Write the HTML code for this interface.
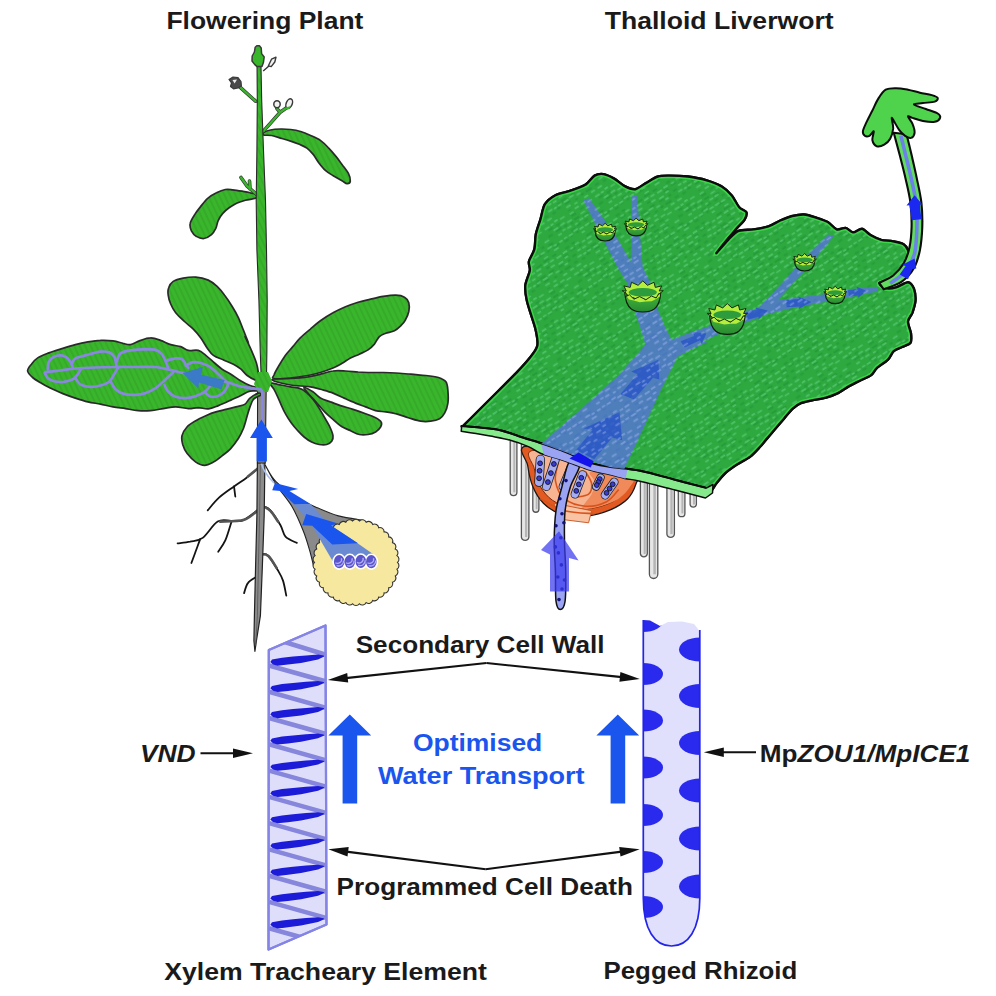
<!DOCTYPE html>
<html><head><meta charset="utf-8"><title>Graphical abstract</title>
<style>
html,body{margin:0;padding:0;background:#fff;}
svg{display:block;font-family:"Liberation Sans",sans-serif;font-weight:bold;}
</style></head>
<body>
<svg width="996" height="996" viewBox="0 0 996 996">
<rect width="996" height="996" fill="#ffffff"/>
<!-- flowering plant -->
<g id="plant">
<defs><pattern id="hat" width="5" height="10" patternUnits="userSpaceOnUse" patternTransform="rotate(-25)"><rect width="5" height="10" fill="#3ab62c"/><rect x="0" width="2" height="10" fill="#35ab29"/></pattern></defs>
<g fill="none" stroke="#141414" stroke-width="1.8" stroke-linecap="round" stroke-linejoin="round">
<path d="M257.4,468.9 C255.6,470.3 250.5,474.7 246.6,477.7 C242.7,480.6 238.6,483.1 234.0,486.4 C229.4,489.8 223.4,493.8 219.0,497.7 C214.6,501.7 209.6,508.2 207.7,510.3"/>
<path d="M234.0,486.4 L235.3,496.5"/>
<path d="M257.4,510.3 C255.0,512.0 247.1,518.6 242.8,520.3 C238.5,522.1 235.7,520.6 231.5,520.8 C227.4,521.0 222.5,518.7 217.7,521.6 C212.9,524.4 207.3,534.5 202.7,537.9 C198.1,541.2 194.3,540.7 190.1,541.7 C185.9,542.6 179.7,543.1 177.6,543.4"/>
<path d="M231.5,521.6 C230.5,524.7 227.5,535.4 225.3,540.4 C223.0,545.4 219.4,549.8 218.2,551.7"/>
<path d="M200.2,539.1 C199.3,541.4 196.6,549.0 195.1,553.0 C193.7,556.9 192.0,561.3 191.4,563.0"/>
<path d="M264.2,506.5 C265.2,507.1 267.7,507.1 270.4,510.3 C273.2,513.4 278.0,520.9 280.5,525.3 C283.0,529.7 282.8,533.7 285.5,536.6 C288.2,539.6 294.9,541.9 296.8,542.9"/>
<path d="M261.7,554.2 C262.7,554.4 265.2,552.7 267.9,555.5 C270.7,558.2 275.5,566.3 278.0,570.5 C280.5,574.7 281.6,576.4 283.0,580.6 C284.4,584.7 285.7,593.1 286.3,595.6"/>
<path d="M256.6,576.8 C255.2,577.8 249.9,580.4 247.9,583.1 C245.8,585.8 244.7,591.4 244.1,593.1"/>
</g>
<g fill="none" stroke="#555" stroke-width="2.6" stroke-linecap="round">
<path d="M258.4,468.1 L247.9,476.6"/>
<path d="M258.4,509.8 C256.0,511.5 250.4,517.9 244.1,519.8 C237.7,521.8 224.2,521.3 220.2,521.6"/>
<path d="M263.4,506.5 C264.6,507.2 268.0,508.3 270.4,510.8 C272.9,513.3 276.7,519.8 278.0,521.6"/>
<path d="M260.9,554.2 C262.2,554.5 265.8,553.7 268.4,556.0 C271.1,558.3 275.3,566.0 276.7,568.0"/>
</g>
<path d="M257.4,462.6 L256.9,515.3 L255.6,565.5 L254.4,615.7 L253.9,640.8 L254.9,651.3 L256.4,640.8 L260.4,615.7 L262.4,565.5 L264.2,515.3 L264.9,462.6 Z" fill="#8c8c8c" stroke="#222" stroke-width="1.2" stroke-linejoin="round"/>
<path d="M260.4,465.1 L259.6,515.3 L258.4,565.5 L257.4,615.7 L255.6,645.8" fill="none" stroke="#555" stroke-width="0.8"/>
<path d="M265.3,465.3 C267.0,467.9 270.2,475.8 275.7,481.3 C281.2,486.8 291.2,493.8 298.2,498.2 C305.2,502.6 310.8,504.9 317.5,507.8 C324.2,510.8 330.9,513.8 338.4,515.9 C345.9,517.9 358.4,519.5 362.4,520.2 L362,560 L313.5,565.7 L313.5,565.7 C312.8,563.0 311.2,555.5 309.4,549.6 C307.7,543.7 306.0,537.6 303.0,530.3 C300.1,523.1 296.3,513.9 291.8,506.2 C287.2,498.5 280.1,490.9 275.7,484.1 C271.3,477.2 267.0,468.4 265.3,465.3 Z" fill="#8a8a8a" stroke="#222" stroke-width="1.1" stroke-linejoin="round"/>
<path d="M397.5,562.4 A4.2,4.2 0 0 1 396.9,569.2 A4.2,4.2 0 0 1 395.3,575.9 A4.2,4.2 0 0 1 392.5,582.2 A4.2,4.2 0 0 1 388.7,587.9 A4.2,4.2 0 0 1 384.1,592.9 A4.2,4.2 0 0 1 378.7,597.1 A4.2,4.2 0 0 1 372.7,600.4 A4.2,4.2 0 0 1 366.2,602.6 A4.2,4.2 0 0 1 359.4,603.8 A4.2,4.2 0 0 1 352.6,603.8 A4.2,4.2 0 0 1 345.8,602.6 A4.2,4.2 0 0 1 339.3,600.4 A4.2,4.2 0 0 1 333.3,597.1 A4.2,4.2 0 0 1 327.9,592.9 A4.2,4.2 0 0 1 323.3,587.9 A4.2,4.2 0 0 1 319.5,582.2 A4.2,4.2 0 0 1 316.7,575.9 A4.2,4.2 0 0 1 315.1,569.2 A4.2,4.2 0 0 1 314.5,562.4 A4.2,4.2 0 0 1 315.1,555.6 A4.2,4.2 0 0 1 316.7,548.9 A4.2,4.2 0 0 1 319.5,542.6 A4.2,4.2 0 0 1 323.3,536.9 A4.2,4.2 0 0 1 327.9,531.9 A4.2,4.2 0 0 1 333.3,527.7 A4.2,4.2 0 0 1 339.3,524.4 A4.2,4.2 0 0 1 345.8,522.2 A4.2,4.2 0 0 1 352.6,521.0 A4.2,4.2 0 0 1 359.4,521.0 A4.2,4.2 0 0 1 366.2,522.2 A4.2,4.2 0 0 1 372.7,524.4 A4.2,4.2 0 0 1 378.7,527.7 A4.2,4.2 0 0 1 384.1,531.9 A4.2,4.2 0 0 1 388.7,536.9 A4.2,4.2 0 0 1 392.5,542.6 A4.2,4.2 0 0 1 395.3,548.9 A4.2,4.2 0 0 1 396.9,555.6 A4.2,4.2 0 0 1 397.5,562.4 Z" fill="#f6e89e" stroke="#333" stroke-width="1.1"/>
<path d="M294.2,504.3 L310.2,503.8 L330.3,525.2 L357.6,543.2 L373.7,554.4 L376.9,562.4 L333.5,562.4 L311.8,525.5 Z" fill="#6a8bd2"/>
<path d="M261.2,461.2 C261.5,462.3 261.8,465.3 262.9,467.7 C263.9,470.1 265.8,473.2 267.7,475.7 C269.5,478.2 273.0,481.7 274.1,482.9" fill="none" stroke="#a9c0f0" stroke-width="1.6"/>
<path d="M274.9,482.9 L298.2,489.0 L289.4,491.0 L310.2,503.8 L294.2,504.3 L280.5,491.0 L272.2,490.2 Z" fill="#1a55ee"/>
<path d="M306.2,513.9 L338.0,523.6 L331.1,525.5 L358.0,543.2 L332.2,544.5 L312.3,525.8 L302.2,525.2 Z" fill="#1a55ee"/>
<g>
<ellipse cx="339.2" cy="561.7" rx="6.9" ry="8.2" fill="#fff"/>
<ellipse cx="349.8" cy="561.7" rx="6.9" ry="8.2" fill="#fff"/>
<ellipse cx="360.8" cy="561.4" rx="6.9" ry="8.2" fill="#fff"/>
<ellipse cx="371.3" cy="561.7" rx="6.9" ry="8.2" fill="#fff"/>
<ellipse cx="339.2" cy="561.7" rx="5.3" ry="6.6" fill="#5a55cc"/>
<path d="M335.4,562.7 a4,4 0 0 0 6,-4.5 M336.59999999999997,565.5 a5,5 0 0 0 7,-5" fill="none" stroke="#b4b0f4" stroke-width="1.3"/>
<ellipse cx="349.8" cy="561.7" rx="5.3" ry="6.6" fill="#5a55cc"/>
<path d="M346.0,562.7 a4,4 0 0 0 6,-4.5 M347.2,565.5 a5,5 0 0 0 7,-5" fill="none" stroke="#b4b0f4" stroke-width="1.3"/>
<ellipse cx="360.8" cy="561.4" rx="5.3" ry="6.6" fill="#5a55cc"/>
<path d="M357.0,562.4 a4,4 0 0 0 6,-4.5 M358.2,565.1999999999999 a5,5 0 0 0 7,-5" fill="none" stroke="#b4b0f4" stroke-width="1.3"/>
<ellipse cx="371.3" cy="561.7" rx="5.3" ry="6.6" fill="#5a55cc"/>
<path d="M367.5,562.7 a4,4 0 0 0 6,-4.5 M368.7,565.5 a5,5 0 0 0 7,-5" fill="none" stroke="#b4b0f4" stroke-width="1.3"/>
</g>
<path d="M257.6,388 L257.4,463 L265.2,463 L266.2,388 Z" fill="#8c8c8c" stroke="#222" stroke-width="1.1"/>
<path d="M304.1,387.6 C304.9,387.3 310.2,390.1 312.9,391.8 C315.6,393.6 317.5,396.4 320.4,398.1 C323.3,399.8 327.1,400.6 330.4,401.9 C333.8,403.1 336.7,404.4 340.5,405.6 C344.2,406.9 348.8,408.0 353.0,409.4 C357.2,410.7 361.8,412.3 365.6,413.7 C369.3,415.0 373.0,416.3 375.6,417.7 C378.2,419.1 380.3,420.4 381.1,421.9 C382.0,423.5 381.6,425.3 380.6,427.0 C379.7,428.6 377.7,430.7 375.6,432.0 C373.5,433.2 370.8,434.1 368.1,434.5 C365.4,434.9 362.2,435.1 359.3,434.5 C356.4,433.9 353.7,432.2 350.5,430.7 C347.4,429.3 343.4,427.6 340.5,425.7 C337.6,423.8 335.5,421.6 333.0,419.4 C330.4,417.3 327.7,415.0 325.4,412.7 C323.1,410.3 321.2,408.0 319.1,405.6 C317.1,403.3 314.8,400.7 312.9,398.6 C311.0,396.5 309.3,394.9 307.9,393.1 C306.4,391.2 303.2,387.8 304.1,387.6 Z" fill="url(#hat)" stroke="#2a2a2a" stroke-width="1.7" stroke-linejoin="round"/>
<path d="M268.9,382.5 C270.2,382.5 274.2,383.6 277.7,384.3 C281.3,385.0 286.5,386.1 290.3,386.8 C294.0,387.5 297.6,387.6 300.3,388.6 C303.0,389.5 304.5,390.8 306.6,392.6 C308.7,394.4 310.8,396.8 312.9,399.3 C315.0,401.9 317.3,405.2 319.1,408.1 C321.0,411.1 322.5,414.0 324.2,416.9 C325.8,419.8 327.7,422.6 329.2,425.7 C330.7,428.8 332.5,433.1 333.0,435.7 C333.4,438.3 332.7,439.8 331.7,441.3 C330.7,442.7 328.8,444.0 326.7,444.5 C324.6,445.1 321.7,444.9 319.1,444.5 C316.6,444.1 314.1,443.3 311.6,442.0 C309.1,440.8 306.4,438.9 304.1,437.0 C301.8,435.1 299.9,433.0 297.8,430.7 C295.7,428.4 293.5,425.9 291.5,423.2 C289.5,420.5 287.4,417.3 285.8,414.4 C284.1,411.5 282.8,408.6 281.5,405.6 C280.2,402.7 279.0,399.6 277.7,396.8 C276.5,394.1 275.2,391.4 274.0,389.3 C272.7,387.2 271.0,385.4 270.2,384.3 C269.4,383.2 267.7,382.5 268.9,382.5 Z" fill="url(#hat)" stroke="#2a2a2a" stroke-width="1.7" stroke-linejoin="round"/>
<path d="M274.0,379.0 C276.7,378.6 284.6,378.9 290.3,378.5 C295.9,378.1 302.8,377.5 307.9,376.8 C312.9,376.0 316.2,375.2 320.4,374.2 C324.6,373.3 328.8,371.5 333.0,371.0 C337.1,370.4 341.3,370.8 345.5,371.0 C349.7,371.2 353.9,371.7 358.1,372.0 C362.2,372.2 366.4,372.4 370.6,372.5 C374.8,372.6 379.0,372.4 383.2,372.5 C387.3,372.6 391.1,372.7 395.7,373.0 C400.3,373.3 405.7,373.8 410.8,374.2 C415.8,374.7 421.2,375.0 425.8,375.5 C430.4,376.0 435.0,376.5 438.4,377.5 C441.7,378.6 444.3,379.6 445.9,381.8 C447.5,384.0 447.6,387.0 447.9,390.6 C448.2,394.1 448.5,399.3 447.9,403.1 C447.4,406.9 446.0,410.6 444.6,413.2 C443.3,415.7 441.9,417.3 439.6,418.7 C437.3,420.0 434.0,420.8 430.8,421.2 C427.7,421.6 424.6,421.8 420.8,421.2 C417.0,420.6 412.4,418.9 408.3,417.7 C404.1,416.4 399.5,414.6 395.7,413.7 C391.9,412.7 389.0,412.4 385.7,411.9 C382.3,411.4 379.0,411.5 375.6,410.6 C372.3,409.8 368.9,408.1 365.6,406.9 C362.2,405.6 359.1,404.6 355.5,403.1 C352.0,401.6 348.0,399.8 344.2,398.1 C340.5,396.4 336.9,394.5 333.0,393.1 C329.0,391.6 324.2,390.4 320.4,389.3 C316.6,388.3 313.7,387.3 310.4,386.8 C307.0,386.3 303.7,386.3 300.3,386.0 C297.0,385.8 294.7,385.9 290.3,385.0 C285.9,384.2 276.7,382.0 274.0,381.0 C271.2,380.0 271.2,379.4 274.0,379.0 Z" fill="url(#hat)" stroke="#2a2a2a" stroke-width="1.7" stroke-linejoin="round"/>
<path d="M274.0,375.0 C274.8,372.8 277.1,368.7 279.0,365.5 C280.9,362.2 283.0,358.6 285.3,355.4 C287.6,352.3 290.3,349.6 292.8,346.6 C295.3,343.7 297.4,340.8 300.3,337.9 C303.2,334.9 307.0,331.9 310.4,329.1 C313.7,326.2 316.6,323.5 320.4,320.8 C324.2,318.1 328.8,315.1 333.0,312.8 C337.1,310.4 341.3,308.5 345.5,306.7 C349.7,305.0 353.9,303.5 358.1,302.2 C362.2,301.0 366.4,300.2 370.6,299.2 C374.8,298.2 379.0,297.1 383.2,296.4 C387.3,295.8 392.1,295.1 395.7,295.2 C399.3,295.3 402.3,295.9 404.5,297.2 C406.7,298.4 408.0,300.3 408.8,302.7 C409.5,305.1 409.3,308.6 408.8,311.5 C408.2,314.4 406.6,317.9 405.2,320.3 C403.9,322.7 402.5,324.0 400.7,325.8 C398.9,327.6 397.0,329.6 394.4,330.8 C391.9,332.1 388.2,332.4 385.7,333.3 C383.2,334.3 381.3,334.8 379.4,336.6 C377.5,338.4 376.2,341.9 374.4,344.1 C372.5,346.3 370.6,348.2 368.1,349.9 C365.6,351.6 362.2,352.8 359.3,354.2 C356.4,355.5 353.5,356.4 350.5,357.9 C347.6,359.5 344.7,361.8 341.7,363.5 C338.8,365.1 336.5,366.5 333.0,368.0 C329.4,369.5 324.6,371.2 320.4,372.5 C316.2,373.7 312.9,374.6 307.9,375.5 C302.8,376.4 295.9,377.5 290.3,378.0 C284.6,378.5 276.7,379.0 274.0,378.5 C271.2,378.0 273.1,377.2 274.0,375.0 Z" fill="url(#hat)" stroke="#2a2a2a" stroke-width="1.7" stroke-linejoin="round"/>
<path d="M258.5,393.1 C256.8,393.6 252.3,396.2 250.0,398.1 C247.7,400.0 247.1,402.9 244.7,404.4 C242.4,405.8 239.1,406.0 235.9,406.9 C232.8,407.7 229.3,408.6 225.9,409.4 C222.6,410.2 219.2,410.9 215.9,411.9 C212.5,412.9 209.2,414.2 205.8,415.7 C202.5,417.1 198.9,418.8 195.8,420.7 C192.6,422.6 189.3,424.4 187.0,427.0 C184.7,429.5 182.7,432.8 182.0,435.7 C181.3,438.7 181.9,441.6 182.7,444.5 C183.6,447.5 184.8,450.4 187.0,453.3 C189.2,456.2 192.9,460.1 195.8,462.1 C198.7,464.1 201.6,465.4 204.6,465.4 C207.5,465.4 210.4,463.7 213.4,462.1 C216.3,460.5 219.2,458.1 222.1,455.8 C225.1,453.5 228.2,451.2 230.9,448.3 C233.6,445.4 236.4,441.6 238.5,438.3 C240.5,434.9 242.0,432.0 243.5,428.2 C244.9,424.4 246.2,419.2 247.2,415.7 C248.3,412.1 249.0,409.6 250.0,406.9 C251.0,404.2 251.8,401.3 253.5,399.3 C255.3,397.4 259.7,396.1 260.5,395.1 C261.4,394.0 260.3,392.6 258.5,393.1 Z" fill="url(#hat)" stroke="#2a2a2a" stroke-width="1.7" stroke-linejoin="round"/>
<path d="M27.6,371.0 C27.4,368.8 29.7,366.4 31.4,364.2 C33.0,362.0 34.7,359.8 37.7,357.9 C40.6,356.0 44.8,354.5 48.9,352.9 C53.1,351.3 58.4,349.8 62.8,348.4 C67.1,347.0 71.1,345.7 75.3,344.6 C79.5,343.5 83.7,342.6 87.9,341.9 C92.0,341.2 96.2,340.5 100.4,340.4 C104.6,340.2 109.2,340.4 113.0,340.9 C116.7,341.4 120.1,342.7 123.0,343.4 C125.9,344.0 127.8,345.0 130.5,344.6 C133.2,344.2 136.0,342.0 139.3,340.9 C142.7,339.7 147.0,337.9 150.6,337.9 C154.2,337.8 157.3,339.2 160.6,340.4 C164.0,341.5 167.3,343.6 170.7,344.6 C174.0,345.7 177.8,345.7 180.7,346.6 C183.7,347.6 185.3,349.8 188.3,350.4 C191.2,351.0 195.4,349.6 198.3,350.4 C201.2,351.2 203.1,353.3 205.8,355.4 C208.5,357.5 211.9,360.7 214.6,363.0 C217.3,365.3 219.4,367.3 222.1,369.2 C224.9,371.1 227.8,372.3 230.9,374.2 C234.1,376.2 237.8,379.1 241.0,381.0 C244.1,382.9 246.7,384.3 250.0,385.5 C253.3,386.8 259.2,387.6 261.0,388.6 C262.9,389.5 262.9,390.6 261.0,391.1 C259.2,391.5 253.3,390.3 250.0,391.1 C246.7,391.8 244.1,394.1 241.0,395.6 C237.8,397.1 234.7,398.4 230.9,400.1 C227.2,401.8 222.1,404.2 218.4,405.6 C214.6,407.1 211.7,408.6 208.3,408.9 C205.0,409.2 201.6,407.7 198.3,407.6 C194.9,407.6 192.0,408.8 188.3,408.6 C184.5,408.5 179.9,406.9 175.7,406.9 C171.5,406.9 167.3,408.0 163.2,408.6 C159.0,409.3 154.8,410.3 150.6,410.6 C146.4,411.0 142.2,411.0 138.1,410.6 C133.9,410.3 129.7,409.3 125.5,408.6 C121.3,408.0 117.1,407.6 113.0,406.9 C108.8,406.1 104.6,405.0 100.4,404.1 C96.2,403.3 92.0,402.9 87.9,401.9 C83.7,400.9 79.5,399.5 75.3,398.1 C71.1,396.7 66.9,395.2 62.8,393.6 C58.6,391.9 54.0,389.9 50.2,388.1 C46.4,386.2 43.1,384.3 40.2,382.5 C37.2,380.8 34.7,379.4 32.6,377.5 C30.5,375.6 27.8,373.2 27.6,371.0 Z" fill="url(#hat)" stroke="#2a2a2a" stroke-width="1.7" stroke-linejoin="round"/>
<path d="M168.2,295.2 C167.8,292.5 167.8,290.0 168.7,287.7 C169.5,285.3 170.8,283.0 173.2,281.4 C175.6,279.8 179.5,278.8 183.2,278.1 C187.0,277.4 191.6,276.8 195.8,277.1 C200.0,277.4 204.8,278.6 208.3,280.1 C211.9,281.7 214.4,283.9 217.1,286.4 C219.8,288.9 222.1,291.8 224.6,295.2 C227.2,298.5 229.9,302.7 232.2,306.5 C234.5,310.2 236.6,313.8 238.5,317.8 C240.3,321.7 241.8,326.1 243.5,330.3 C245.1,334.5 248.2,341.8 248.5,342.9 C248.8,343.9 244.6,335.3 245.1,336.6 C245.6,337.9 249.5,346.0 251.4,350.4 C253.3,354.8 255.1,358.8 256.4,363.0 C257.7,367.1 258.3,372.5 258.9,375.5 C259.5,378.5 260.6,380.2 260.2,381.0 C259.7,381.9 258.2,381.4 256.0,380.5 C253.9,379.6 249.7,377.4 247.2,375.5 C244.7,373.6 243.3,371.1 241.0,369.2 C238.7,367.3 236.4,365.8 233.4,364.2 C230.5,362.7 226.7,361.4 223.4,359.9 C220.0,358.5 216.1,357.4 213.4,355.4 C210.6,353.4 209.2,350.8 207.1,347.9 C205.0,345.0 203.1,341.0 200.8,337.9 C198.5,334.7 196.0,331.8 193.3,329.1 C190.6,326.3 187.4,324.3 184.5,321.5 C181.6,318.8 178.0,315.7 175.7,312.8 C173.4,309.8 171.9,306.9 170.7,304.0 C169.4,301.0 168.5,297.9 168.2,295.2 Z" fill="url(#hat)" stroke="#2a2a2a" stroke-width="1.7" stroke-linejoin="round"/>
<path d="M263.5,132.5 C264.6,131.7 267.6,130.6 270.5,130.0 C273.3,129.4 277.2,129.1 280.5,129.0 C283.9,128.9 287.2,129.1 290.6,129.5 C293.9,129.9 297.3,130.5 300.6,131.5 C303.9,132.5 307.3,134.0 310.6,135.5 C314.0,137.0 317.7,138.5 320.7,140.6 C323.7,142.7 326.2,145.5 328.7,148.1 C331.2,150.7 333.5,153.4 335.7,156.1 C338.0,158.8 339.9,161.6 342.0,164.4 C344.1,167.3 346.9,170.4 348.3,173.2 C349.7,176.0 350.5,179.5 350.3,181.2 C350.1,183.0 348.4,183.8 347.0,183.7 C345.7,183.7 344.3,182.1 342.0,180.7 C339.7,179.4 336.0,177.4 333.2,175.7 C330.5,174.0 328.1,172.9 325.7,170.7 C323.3,168.5 320.8,165.4 318.7,162.7 C316.6,159.9 315.1,156.8 313.2,154.4 C311.2,151.9 309.2,149.8 306.9,148.1 C304.6,146.4 302.1,145.5 299.3,144.3 C296.6,143.2 293.7,142.1 290.6,141.1 C287.4,140.0 283.7,139.0 280.5,138.1 C277.4,137.1 274.6,136.0 271.7,135.5 C268.9,135.0 264.8,135.5 263.5,135.0 C262.1,134.5 262.3,133.4 263.5,132.5 Z" fill="url(#hat)" stroke="#2a2a2a" stroke-width="1.7" stroke-linejoin="round"/>
<path d="M256.7,194.5 C255.6,193.7 252.7,193.3 250.4,192.8 C248.1,192.2 245.8,191.8 242.9,191.3 C239.9,190.8 235.8,190.1 232.8,189.8 C229.9,189.5 228.0,189.0 225.3,189.5 C222.6,190.0 219.4,191.3 216.5,192.8 C213.6,194.2 210.5,195.9 207.7,198.3 C205.0,200.7 202.4,204.4 200.2,207.1 C198.0,209.8 196.4,211.9 194.7,214.6 C193.0,217.3 190.7,220.7 190.2,223.4 C189.6,226.1 190.4,228.7 191.4,230.9 C192.5,233.1 194.3,235.2 196.4,236.4 C198.5,237.7 201.5,238.7 204.0,238.5 C206.5,238.2 209.5,236.4 211.5,234.7 C213.5,233.0 214.6,230.8 215.8,228.4 C216.9,226.0 217.1,222.9 218.3,220.4 C219.4,217.9 221.0,215.4 222.8,213.4 C224.6,211.3 226.8,209.5 229.1,207.8 C231.4,206.2 233.9,204.6 236.6,203.3 C239.3,202.1 242.0,201.2 245.4,200.3 C248.7,199.4 254.8,198.8 256.7,197.8 C258.6,196.8 257.7,195.4 256.7,194.5 Z" fill="url(#hat)" stroke="#2a2a2a" stroke-width="1.7" stroke-linejoin="round"/>
<g fill="none" stroke="#333" stroke-width="3.6" stroke-linecap="round">
<path d="M255.6,101.2 L240,87.2"/><path d="M263.2,131.4 L280.2,112.3 L276.9,108.6 M280.2,112.3 L287.3,107.3"/><path d="M256.7,194.5 L247,186 L241,177.5 M250,189 L249.5,181"/>
</g>
<g fill="none" stroke="#3ab62c" stroke-width="2.3" stroke-linecap="round">
<path d="M255.6,101.2 L240,87.2"/><path d="M263.2,131.4 L280.2,112.3 L276.9,108.6 M280.2,112.3 L287.3,107.3"/><path d="M256.7,194.5 L247,186 L241,177.5 M250,189 L249.5,181"/>
</g>
<path d="M263.2,71 L269.5,65.5" stroke="#333" stroke-width="1.4" fill="none"/>
<path d="M268.4,65.8 L271.5,59.2 L276,57.2 L274.8,62 L271.2,66.6 Z" fill="#f2f2f2" stroke="#3a3a3a" stroke-width="1.4" stroke-linejoin="round"/>
<path d="M229,79.5 L233,77 L238,77.6 L241,81.5 L241.4,86 L238,88 L233.5,88.8 L230.5,86.5 L231.5,83 Z" fill="#4a4a4a" stroke="#3a3a3a" stroke-width="1.2" stroke-linejoin="round"/><path d="M232.5,80 L237,79.6 L234.6,83.6 Z" fill="#eee"/>
<ellipse cx="277" cy="104.3" rx="3.2" ry="3.5" fill="#f2f2f2" stroke="#3a3a3a" stroke-width="1.5"/>
<ellipse cx="289.2" cy="103.6" rx="3" ry="5" transform="rotate(22 289.2 103.6)" fill="#f2f2f2" stroke="#3a3a3a" stroke-width="1.5"/>
<path d="M285.6,107.6 L290.6,106 L289,109 L286.4,109.6 Z" fill="#3ab62c"/>
<path d="M256.9,47.7 L257.3,100.4 L256.9,150.6 L256.2,200.8 L256.9,250.0 L258.9,300.2 L260.2,350.4 L261.2,378.0 L266.4,382.0 L266.9,350.4 L267.2,300.2 L266.5,250.0 L265.5,200.8 L263.5,150.6 L261.7,100.4 L260.6,47.7 Z" fill="url(#hat)" stroke="#2a2a2a" stroke-width="1.1" stroke-linejoin="round"/>
<path d="M255.2,47.2 L254.4,52 L252.2,56 L252,61 L254.6,64.4 L256.8,66.4 L262,66.4 L263.4,62.6 L264.2,57 L261.6,53.6 L261.2,48 L259.4,45.8 L256.8,45.8 Z" fill="#3ab62c" stroke="#3a3a3a" stroke-width="1.5" stroke-linejoin="round"/>
<path d="M258,372 L268,372 L272,381 L268,392 L258,392 L254,384 Z" fill="url(#hat)"/>
<path d="M45.2,372.2 C47.7,371.9 55.2,371.1 60.2,370.5 C65.3,369.9 69.4,369.0 75.3,368.5 C81.2,368.0 88.7,367.7 95.4,367.5 C102.1,367.2 108.8,367.1 115.5,367.0 C122.2,366.9 128.8,367.0 135.5,367.0 C142.2,367.0 149.8,366.5 155.6,367.0 C161.5,367.5 166.1,369.0 170.7,370.0 C175.3,371.0 178.2,371.9 183.2,373.0 C188.3,374.1 193.7,375.3 200.8,376.8 C207.9,378.2 219.6,380.2 225.9,381.8 C232.2,383.3 234.3,385.0 238.5,386.0 C242.6,387.1 247.2,387.5 251.0,388.1 C254.8,388.6 259.4,389.3 261.0,389.6 M47.7,369.2 C47.9,368.0 47.9,363.8 48.9,361.7 C50.0,359.6 51.9,357.7 54.0,356.7 C56.1,355.6 59.2,355.1 61.5,355.4 C63.8,355.7 66.1,357.0 67.8,358.4 C69.4,359.9 70.7,362.5 71.5,364.2 C72.4,365.9 72.6,367.8 72.8,368.5 M72.3,363.0 C72.8,362.2 73.1,359.7 75.3,358.4 C77.5,357.2 81.2,356.6 85.3,355.4 C89.5,354.3 96.4,352.2 100.4,351.7 C104.4,351.2 106.9,351.6 109.2,352.4 C111.5,353.2 113.0,354.3 114.2,356.7 C115.5,359.1 116.3,365.3 116.7,367.0 M116.7,361.7 C117.3,360.3 118.2,355.3 120.5,353.4 C122.8,351.5 126.3,351.1 130.5,350.4 C134.7,349.7 141.4,349.2 145.6,349.1 C149.8,349.1 152.9,349.1 155.6,349.9 C158.3,350.7 160.2,352.2 161.9,354.2 C163.6,356.1 164.6,359.4 165.7,361.7 C166.7,364.0 167.8,366.9 168.2,368.0 M166.9,360.4 C168.4,360.1 173.2,358.6 175.7,358.4 C178.2,358.2 180.3,358.2 182.0,359.2 C183.7,360.1 184.7,362.7 185.7,364.2 C186.8,365.7 187.8,367.3 188.3,368.0 M185.7,365.5 C187.0,364.9 190.8,362.6 193.3,362.2 C195.8,361.8 198.1,362.2 200.8,363.0 C203.5,363.7 206.9,365.0 209.6,366.7 C212.3,368.4 214.8,370.9 217.1,373.0 C219.4,375.1 221.7,377.7 223.4,379.3 C225.1,380.8 226.5,381.8 227.2,382.3 M44.7,373.0 C45.2,373.8 46.1,376.6 47.7,378.0 C49.2,379.4 51.2,380.6 54.0,381.3 C56.7,381.9 60.9,382.1 64.0,381.8 C67.1,381.4 70.5,380.5 72.8,379.3 C75.1,378.0 76.5,375.9 77.8,374.2 C79.1,372.6 80.3,370.1 80.8,369.2 M75.3,378.0 C76.1,379.1 77.8,382.8 80.3,384.3 C82.8,385.8 87.0,386.6 90.4,386.8 C93.7,387.0 97.3,386.4 100.4,385.5 C103.5,384.7 106.9,383.7 109.2,381.8 C111.5,379.9 112.7,376.5 114.2,374.2 C115.7,371.9 117.3,369.0 118.0,368.0 M110.4,381.0 C111.3,382.4 113.4,387.2 115.5,389.3 C117.6,391.4 119.6,392.7 123.0,393.6 C126.3,394.5 131.8,394.9 135.5,394.8 C139.3,394.7 142.2,394.2 145.6,393.1 C148.9,391.9 152.5,390.1 155.6,388.1 C158.8,386.0 161.5,383.2 164.4,380.5 C167.3,377.9 171.7,373.6 173.2,372.2 M164.4,385.0 C165.0,386.2 166.3,389.9 168.2,391.8 C170.1,393.8 172.8,395.8 175.7,396.8 C178.6,397.9 182.4,398.2 185.7,398.1 C189.1,398.0 192.6,397.1 195.8,396.1 C198.9,395.0 202.3,393.4 204.6,391.8 C206.9,390.3 208.8,387.6 209.6,386.8 M204.6,391.8 C205.4,392.6 207.5,395.6 209.6,396.3 C211.7,397.1 214.8,397.0 217.1,396.3 C219.4,395.7 221.7,394.2 223.4,392.6 C225.1,391.0 226.3,388.4 227.2,386.8 C228.0,385.2 228.2,383.7 228.4,383.0 M258,388.8 Q262.5,389 262.4,394 L262.3,421" fill="none" stroke="#8b86e2" stroke-width="2.7" stroke-linecap="round" stroke-linejoin="round"/>
<path d="M182.7,373.0 L202.8,367.0 L201.3,374.7 L224.6,380.0 L221.4,389.3 L199.0,382.5 L198.3,388.6 Z" fill="#3a7ac6"/>
<path d="M261.4,419.4 L272.8,437.9 L266.9,437.9 L266.9,461.4 L256.6,461.4 L256.6,437.9 L250,437.9 Z" fill="#1a55ee"/>
</g>
<!-- liverwort -->
<g id="liver">
<defs>
<pattern id="tex" width="60" height="54" patternUnits="userSpaceOnUse" patternTransform="rotate(-33)">
<rect width="60" height="54" fill="#2da93f"/>
<g stroke="#249a37" stroke-width="2.2" opacity="0.75" transform="translate(0,-3)"><path d="M1.4,2.9 h3.3 M17.2,2.2 h6.2 M28.2,2.2 h3.6 M46.8,2.0 h6.8 M1.2,9.3 h5.9 M12.1,8.5 h5.2 M34.4,9.2 h5.1 M43.6,9.3 h5.0 M2.0,14.0 h5.8 M11.5,16.0 h6.8 M30.9,14.6 h4.9 M40.2,14.1 h6.7 M49.5,14.3 h3.8 M56.7,15.3 h2.8 M0.5,20.4 h5.0 M9.6,20.7 h4.7 M18.5,20.3 h3.6 M26.5,21.8 h5.1 M53.3,21.9 h6.2 M10.7,26.1 h6.2 M21.4,26.3 h3.1 M29.7,26.1 h6.9 M41.4,27.4 h5.0 M49.1,25.9 h3.4 M56.6,26.2 h2.9 M3.4,34.0 h7.0 M13.0,32.9 h6.8 M23.3,33.0 h4.9 M38.6,33.6 h4.8 M46.5,33.0 h3.7 M11.9,40.0 h4.0 M32.2,39.6 h5.8 M41.7,38.0 h5.9 M51.5,38.7 h3.0 M0.9,45.4 h6.8 M12.2,45.1 h5.3 M23.0,45.5 h5.6 M34.0,45.3 h3.1 M40.3,43.9 h4.6 M56.1,46.1 h3.4 M2.6,50.0 h6.2 M13.6,52.0 h3.2 M20.7,51.0 h3.7 M27.0,50.8 h6.8 M38.1,50.5 h4.5 M46.7,51.5 h4.1 M53.4,49.9 h4.0 "/></g>
<g stroke="#58c872" stroke-width="1.7" stroke-linecap="round" opacity="0.8"><path d="M1.8,4.0 h3.2 M9.1,2.2 h3.3 M16.7,2.0 h3.7 M23.3,3.5 h3.8 M32.5,3.4 h4.1 M39.6,3.1 h2.0 M44.7,1.9 h2.5 M51.0,3.0 h3.9 M11.1,9.5 h3.8 M18.2,8.0 h2.6 M39.3,8.8 h4.2 M47.9,8.4 h3.7 M55.1,9.6 h4.1 M0.4,15.7 h2.1 M6.7,14.3 h3.0 M12.6,14.1 h3.4 M25.2,14.3 h3.9 M40.7,15.7 h2.6 M46.7,14.0 h2.2 M52.1,14.7 h3.3 M1.9,21.9 h3.3 M8.2,21.8 h4.0 M15.2,22.1 h3.6 M24.2,21.2 h3.9 M31.0,22.1 h2.1 M37.7,21.8 h2.6 M43.6,21.5 h2.4 M49.2,21.8 h3.2 M55.7,20.3 h3.8 M1.8,26.2 h2.1 M15.9,27.5 h3.4 M28.9,25.9 h4.1 M2.7,33.9 h4.0 M11.6,33.2 h3.9 M19.1,33.3 h3.3 M26.8,33.9 h4.2 M34.7,33.2 h3.6 M43.3,33.6 h2.2 M49.8,32.4 h3.1 M56.9,34.0 h2.6 M1.2,38.3 h3.5 M16.8,38.3 h3.5 M25.2,39.9 h4.0 M33.5,38.1 h2.7 M48.4,38.9 h2.4 M53.9,39.3 h2.9 M3.4,44.9 h4.2 M10.1,43.9 h3.9 M18.2,45.7 h2.7 M30.0,43.9 h2.3 M45.0,44.3 h3.5 M51.5,44.9 h2.0 M56.6,44.6 h2.6 M2.5,50.7 h3.7 M11.3,52.0 h2.2 M23.0,51.9 h3.3 M31.6,51.4 h3.0 M39.3,51.3 h3.8 "/></g>
</pattern>
<pattern id="spk" width="60" height="54" patternUnits="userSpaceOnUse" patternTransform="rotate(-33)">
<g stroke="#3f6cc4" stroke-width="2.2" opacity="0.35" transform="translate(0,-3)"><path d="M1.4,2.9 h3.3 M17.2,2.2 h6.2 M28.2,2.2 h3.6 M46.8,2.0 h6.8 M1.2,9.3 h5.9 M12.1,8.5 h5.2 M34.4,9.2 h5.1 M43.6,9.3 h5.0 M2.0,14.0 h5.8 M11.5,16.0 h6.8 M30.9,14.6 h4.9 M40.2,14.1 h6.7 M49.5,14.3 h3.8 M56.7,15.3 h2.8 M0.5,20.4 h5.0 M9.6,20.7 h4.7 M18.5,20.3 h3.6 M26.5,21.8 h5.1 M53.3,21.9 h6.2 M10.7,26.1 h6.2 M21.4,26.3 h3.1 M29.7,26.1 h6.9 M41.4,27.4 h5.0 M49.1,25.9 h3.4 M56.6,26.2 h2.9 M3.4,34.0 h7.0 M13.0,32.9 h6.8 M23.3,33.0 h4.9 M38.6,33.6 h4.8 M46.5,33.0 h3.7 M11.9,40.0 h4.0 M32.2,39.6 h5.8 M41.7,38.0 h5.9 M51.5,38.7 h3.0 M0.9,45.4 h6.8 M12.2,45.1 h5.3 M23.0,45.5 h5.6 M34.0,45.3 h3.1 M40.3,43.9 h4.6 M56.1,46.1 h3.4 M2.6,50.0 h6.2 M13.6,52.0 h3.2 M20.7,51.0 h3.7 M27.0,50.8 h6.8 M38.1,50.5 h4.5 M46.7,51.5 h4.1 M53.4,49.9 h4.0 "/></g>
<g stroke="#a0b6f2" stroke-width="1.7" stroke-linecap="round" opacity="0.5"><path d="M1.8,4.0 h3.2 M9.1,2.2 h3.3 M16.7,2.0 h3.7 M23.3,3.5 h3.8 M32.5,3.4 h4.1 M39.6,3.1 h2.0 M44.7,1.9 h2.5 M51.0,3.0 h3.9 M11.1,9.5 h3.8 M18.2,8.0 h2.6 M39.3,8.8 h4.2 M47.9,8.4 h3.7 M55.1,9.6 h4.1 M0.4,15.7 h2.1 M6.7,14.3 h3.0 M12.6,14.1 h3.4 M25.2,14.3 h3.9 M40.7,15.7 h2.6 M46.7,14.0 h2.2 M52.1,14.7 h3.3 M1.9,21.9 h3.3 M8.2,21.8 h4.0 M15.2,22.1 h3.6 M24.2,21.2 h3.9 M31.0,22.1 h2.1 M37.7,21.8 h2.6 M43.6,21.5 h2.4 M49.2,21.8 h3.2 M55.7,20.3 h3.8 M1.8,26.2 h2.1 M15.9,27.5 h3.4 M28.9,25.9 h4.1 M2.7,33.9 h4.0 M11.6,33.2 h3.9 M19.1,33.3 h3.3 M26.8,33.9 h4.2 M34.7,33.2 h3.6 M43.3,33.6 h2.2 M49.8,32.4 h3.1 M56.9,34.0 h2.6 M1.2,38.3 h3.5 M16.8,38.3 h3.5 M25.2,39.9 h4.0 M33.5,38.1 h2.7 M48.4,38.9 h2.4 M53.9,39.3 h2.9 M3.4,44.9 h4.2 M10.1,43.9 h3.9 M18.2,45.7 h2.7 M30.0,43.9 h2.3 M45.0,44.3 h3.5 M51.5,44.9 h2.0 M56.6,44.6 h2.6 M2.5,50.7 h3.7 M11.3,52.0 h2.2 M23.0,51.9 h3.3 M31.6,51.4 h3.0 M39.3,51.3 h3.8 "/></g>
</pattern>
<linearGradient id="cupg" x1="0" y1="0" x2="0" y2="1"><stop offset="0" stop-color="#46b83c"/><stop offset="1" stop-color="#278a30"/></linearGradient>
</defs>
<path d="M510.2,432.4 L510.2,492.3 A3.3,3.3 0 0 0 516.9,492.3 L516.9,432.4 Z" fill="#e6e6e6" stroke="#555" stroke-width="1.3"/>
<path d="M514.3,432.4 L514.3,492.3" stroke="#b5b5b5" stroke-width="2.0" fill="none"/>
<path d="M521.4,435.4 L521.4,537.1 A3.8,3.8 0 0 0 528.9,537.1 L528.9,435.4 Z" fill="#e6e6e6" stroke="#555" stroke-width="1.3"/>
<path d="M526.1,435.4 L526.1,537.1" stroke="#b5b5b5" stroke-width="2.3" fill="none"/>
<path d="M532.8,450.5 L532.8,509.2 A3.0,3.0 0 0 0 538.9,509.2 L538.9,450.5 Z" fill="#e6e6e6" stroke="#555" stroke-width="1.3"/>
<path d="M536.6,450.5 L536.6,509.2" stroke="#b5b5b5" stroke-width="1.8" fill="none"/>
<path d="M640.4,474.6 L640.4,553.9 A3.5,3.5 0 0 0 647.3,553.9 L647.3,474.6 Z" fill="#e6e6e6" stroke="#555" stroke-width="1.3"/>
<path d="M644.7,474.6 L644.7,553.9" stroke="#b5b5b5" stroke-width="2.1" fill="none"/>
<path d="M649.4,477.6 L649.4,574.3 A4.2,4.2 0 0 0 657.8,574.3 L657.8,477.6 Z" fill="#e6e6e6" stroke="#555" stroke-width="1.3"/>
<path d="M654.6,477.6 L654.6,574.3" stroke="#b5b5b5" stroke-width="2.5" fill="none"/>
<path d="M666.9,480.6 L666.9,534.1 A3.8,3.8 0 0 0 674.4,534.1 L674.4,480.6 Z" fill="#e6e6e6" stroke="#555" stroke-width="1.3"/>
<path d="M671.5,480.6 L671.5,534.1" stroke="#b5b5b5" stroke-width="2.3" fill="none"/>
<path d="M678.3,483.6 L678.3,513.4 A3.3,3.3 0 0 0 684.9,513.4 L684.9,483.6 Z" fill="#e6e6e6" stroke="#555" stroke-width="1.3"/>
<path d="M682.4,483.6 L682.4,513.4" stroke="#b5b5b5" stroke-width="2.0" fill="none"/>
<path d="M690.1,486.6 L690.1,504.5 A3.2,3.2 0 0 0 696.4,504.5 L696.4,486.6 Z" fill="#e6e6e6" stroke="#555" stroke-width="1.3"/>
<path d="M694.0,486.6 L694.0,504.5" stroke="#b5b5b5" stroke-width="1.9" fill="none"/>
<path d="M526.8,446.0 C514.7,447.0 526.7,458.8 527.7,465.5 C528.7,472.3 530.2,480.4 532.8,486.6 C535.4,492.9 538.6,498.6 543.4,503.2 C548.1,507.8 554.4,512.2 561.4,514.3 C568.5,516.5 577.5,516.8 585.5,516.1 C593.6,515.4 602.6,513.0 609.6,510.1 C616.7,507.2 623.3,503.1 627.7,498.7 C632.1,494.3 634.6,488.1 636.1,483.6 C637.7,479.1 642.7,475.6 636.7,471.6 C630.8,467.6 618.9,463.8 600.6,459.5 C582.3,455.3 539.0,445.0 526.8,446.0 Z" fill="#e25a22" stroke="#1a1a1a" stroke-width="1.3"/>
<path d="M532.8,450.5 C522.8,452.0 533.1,462.5 534.3,468.6 C535.6,474.6 537.3,481.4 540.4,486.6 C543.4,491.9 547.4,496.7 552.4,500.2 C557.4,503.7 564.0,506.4 570.5,507.7 C577.0,509.1 584.5,509.3 591.6,508.3 C598.6,507.3 606.9,504.8 612.7,501.7 C618.4,498.6 623.2,494.2 626.2,489.6 C629.2,485.1 636.0,479.6 630.7,474.6 C625.5,469.6 610.9,463.5 594.6,459.5 C578.3,455.5 542.9,449.0 532.8,450.5 Z" fill="#f6b492" stroke="#7a2c0c" stroke-width="1"/>
<path d="M591.6,471.6 C597.6,470.8 624.3,475.1 630.7,477.6 C637.1,480.1 632.1,483.1 630.1,486.6 C628.1,490.1 623.6,495.4 618.7,498.7 C613.8,501.9 606.6,504.6 600.6,506.2 C594.6,507.8 584.0,510.3 582.5,508.3 C581.0,506.3 589.6,498.5 591.6,494.2 C593.6,489.8 594.6,485.9 594.6,482.1 C594.6,478.3 585.5,472.3 591.6,471.6 Z" fill="#f08a5a"/>
<path d="M553.9,503.2 L591.6,510.7 L588.6,522.8 L559.9,519.2 Z" fill="#f8c4a4" stroke="#c8501c" stroke-width="0.9"/>
<path d="M558.4,462.5 C557.9,465.5 554.4,474.6 555.4,480.6 C556.4,486.6 559.4,494.4 564.5,498.7 C569.5,502.9 578.5,505.7 585.5,506.2 C592.6,506.7 601.1,504.4 606.6,501.7 C612.1,498.9 616.7,491.6 618.7,489.6" fill="none" stroke="#d8541c" stroke-width="1.6"/>
<path d="M585.5,471.6 C586.5,473.6 591.1,479.8 591.6,483.6 C592.1,487.4 591.1,491.9 588.6,494.2 C586.0,496.4 578.5,496.7 576.5,497.2" fill="none" stroke="#d8541c" stroke-width="1.6"/>
<path d="M540.4,498.7 C544.4,500.7 555.4,508.2 564.5,510.7 C573.5,513.2 589.6,513.2 594.6,513.7" fill="none" stroke="#d8541c" stroke-width="1.6"/>
<path d="M540.4,459.5 L538.9,482.1" stroke="#222" stroke-width="9.4" stroke-linecap="round"/>
<path d="M540.4,459.5 L538.9,482.1" stroke="#a4acf4" stroke-width="7.8" stroke-linecap="round"/>
<circle cx="540.1" cy="463.3" r="2.4" fill="#3a3ad8" stroke="#111" stroke-width="0.9"/>
<circle cx="539.6" cy="470.8" r="2.4" fill="#3a3ad8" stroke="#111" stroke-width="0.9"/>
<circle cx="539.1" cy="478.3" r="2.4" fill="#3a3ad8" stroke="#111" stroke-width="0.9"/>
<path d="M555.4,459.5 L546.4,486.6" stroke="#222" stroke-width="8.8" stroke-linecap="round"/>
<path d="M555.4,459.5 L546.4,486.6" stroke="#a4acf4" stroke-width="7.2" stroke-linecap="round"/>
<circle cx="553.9" cy="464.0" r="2.4" fill="#3a3ad8" stroke="#111" stroke-width="0.9"/>
<circle cx="550.9" cy="473.1" r="2.4" fill="#3a3ad8" stroke="#111" stroke-width="0.9"/>
<circle cx="547.9" cy="482.1" r="2.4" fill="#3a3ad8" stroke="#111" stroke-width="0.9"/>
<path d="M570.5,468.6 L563.0,486.6" stroke="#222" stroke-width="8.8" stroke-linecap="round"/>
<path d="M570.5,468.6 L563.0,486.6" stroke="#a4acf4" stroke-width="7.2" stroke-linecap="round"/>
<circle cx="569.2" cy="471.6" r="2.4" fill="#3a3ad8" stroke="#111" stroke-width="0.9"/>
<circle cx="566.7" cy="477.6" r="2.4" fill="#3a3ad8" stroke="#111" stroke-width="0.9"/>
<circle cx="564.2" cy="483.6" r="2.4" fill="#3a3ad8" stroke="#111" stroke-width="0.9"/>
<path d="M582.5,474.6 L575.0,494.2" stroke="#222" stroke-width="8.8" stroke-linecap="round"/>
<path d="M582.5,474.6 L575.0,494.2" stroke="#a4acf4" stroke-width="7.2" stroke-linecap="round"/>
<circle cx="581.3" cy="477.8" r="2.4" fill="#3a3ad8" stroke="#111" stroke-width="0.9"/>
<circle cx="578.8" cy="484.4" r="2.4" fill="#3a3ad8" stroke="#111" stroke-width="0.9"/>
<circle cx="576.3" cy="490.9" r="2.4" fill="#3a3ad8" stroke="#111" stroke-width="0.9"/>
<path d="M600.6,477.6 L596.1,486.6" stroke="#222" stroke-width="8.2" stroke-linecap="round"/>
<path d="M600.6,477.6 L596.1,486.6" stroke="#a4acf4" stroke-width="6.6" stroke-linecap="round"/>
<circle cx="599.8" cy="479.1" r="2.4" fill="#3a3ad8" stroke="#111" stroke-width="0.9"/>
<circle cx="598.3" cy="482.1" r="2.4" fill="#3a3ad8" stroke="#111" stroke-width="0.9"/>
<circle cx="596.8" cy="485.1" r="2.4" fill="#3a3ad8" stroke="#111" stroke-width="0.9"/>
<path d="M614.2,482.1 L605.1,495.1" stroke="#222" stroke-width="8.8" stroke-linecap="round"/>
<path d="M614.2,482.1 L605.1,495.1" stroke="#a4acf4" stroke-width="7.2" stroke-linecap="round"/>
<circle cx="612.7" cy="484.3" r="2.4" fill="#3a3ad8" stroke="#111" stroke-width="0.9"/>
<circle cx="609.6" cy="488.6" r="2.4" fill="#3a3ad8" stroke="#111" stroke-width="0.9"/>
<circle cx="606.6" cy="492.9" r="2.4" fill="#3a3ad8" stroke="#111" stroke-width="0.9"/>
<path d="M569.0,462.5 C566.1,466.0 564.2,478.6 562.0,486.6 C559.9,494.7 557.3,501.7 556.0,510.7 C554.7,519.8 554.3,530.8 554.2,540.8 C554.1,550.9 555.1,560.9 555.4,571.0 C555.7,581.0 555.2,594.7 556.0,601.1 C556.8,607.5 558.7,609.5 560.2,609.5 C561.7,609.5 564.2,607.5 565.1,601.1 C566.0,594.7 565.8,581.0 565.7,571.0 C565.6,560.9 564.6,550.9 564.5,540.8 C564.4,530.8 564.1,519.8 565.1,510.7 C566.1,501.7 568.1,494.2 570.5,486.6 C572.9,479.1 579.8,469.6 579.5,465.5 C579.3,461.5 571.9,459.0 569.0,462.5 Z" fill="#9aa4f2" stroke="#111" stroke-width="1.5"/>
<circle cx="566.0" cy="480.6" r="1.8" fill="#12127a"/>
<circle cx="559.9" cy="498.7" r="1.8" fill="#12127a"/>
<circle cx="562.0" cy="513.7" r="1.8" fill="#12127a"/>
<circle cx="556.0" cy="525.8" r="1.8" fill="#12127a"/>
<circle cx="560.8" cy="537.8" r="1.8" fill="#12127a"/>
<circle cx="558.4" cy="552.9" r="1.8" fill="#12127a"/>
<circle cx="561.4" cy="564.9" r="1.8" fill="#12127a"/>
<circle cx="557.8" cy="577.0" r="1.8" fill="#12127a"/>
<circle cx="562.0" cy="589.0" r="1.8" fill="#12127a"/>
<circle cx="559.0" cy="599.6" r="1.8" fill="#12127a"/>
<circle cx="563.9" cy="522.8" r="1.8" fill="#12127a"/>
<circle cx="555.4" cy="546.9" r="1.8" fill="#12127a"/>
<circle cx="564.5" cy="580.0" r="1.8" fill="#12127a"/>
<path d="M559.0,531.2 L578.6,560.4 L569.0,558.0 L569.0,591.4 L550.0,591.4 L550.0,554.4 L541.0,549.9 Z" fill="#3a3af0" opacity="0.72"/>
<path d="M462.0,427.1 C464.6,424.5 475.0,414.2 480.1,409.0 C485.3,403.9 493.0,396.1 498.2,391.0 C503.4,385.8 511.7,377.6 516.3,372.9 C520.8,368.2 526.8,361.7 529.8,357.8 C532.8,354.0 536.5,349.7 537.3,345.8 C538.2,341.9 536.7,335.0 535.8,330.7 C535.0,326.4 532.6,320.0 531.3,315.7 C530.0,311.4 527.7,304.9 526.8,300.6 C525.9,296.3 524.9,289.8 525.3,285.5 C525.7,281.2 529.3,273.9 529.8,270.5 C530.3,267.0 528.3,264.5 528.9,261.4 C529.6,258.4 533.3,253.3 534.3,249.4 C535.3,245.5 535.0,238.6 535.8,234.3 C536.7,230.0 539.1,223.6 540.4,219.3 C541.7,215.0 542.7,207.7 544.9,204.2 C547.0,200.8 551.8,197.1 555.4,195.2 C559.1,193.2 566.2,192.2 570.5,190.7 C574.8,189.2 582.1,186.8 585.5,184.6 C589.0,182.5 592.0,177.1 594.6,175.6 C597.2,174.1 600.8,173.7 603.6,174.1 C606.4,174.5 611.1,176.9 614.2,178.6 C617.2,180.3 621.7,184.6 624.7,186.1 C627.7,187.7 632.2,189.6 635.2,189.2 C638.3,188.7 642.6,184.9 645.8,183.1 C649.0,181.3 654.4,177.6 657.8,176.5 C661.3,175.4 665.6,175.6 669.9,175.6 C674.2,175.6 682.8,175.9 688.0,176.5 C693.1,177.2 701.3,178.7 706.0,180.1 C710.8,181.5 717.4,184.0 721.1,186.1 C724.7,188.3 729.0,192.2 731.6,195.2 C734.2,198.2 737.1,204.8 739.2,207.2 C741.3,209.7 745.6,210.4 746.4,212.2 C747.1,213.9 745.9,217.3 744.6,219.6 C743.3,221.8 739.5,225.2 737.1,227.9 C734.8,230.6 731.2,234.7 728.2,238.3 C725.3,241.9 716.3,253.0 716.3,253.2 C716.3,253.4 725.0,243.0 728.2,239.8 C731.4,236.6 735.0,232.4 738.6,230.9 C742.2,229.4 749.2,230.0 753.5,229.4 C757.7,228.8 764.5,227.7 768.4,226.4 C772.2,225.1 776.8,222.0 780.2,220.5 C783.6,219.0 788.7,216.9 792.1,216.0 C795.5,215.2 800.6,214.3 804.0,214.5 C807.4,214.7 812.5,216.4 815.9,217.5 C819.3,218.6 824.8,220.3 827.8,222.0 C830.8,223.7 834.2,228.5 836.7,229.4 C839.2,230.2 843.3,227.5 845.6,227.9 C848.0,228.3 850.7,232.2 853.0,232.4 C855.4,232.5 859.4,228.4 862.0,228.8 C864.5,229.2 868.1,233.8 870.9,235.3 C873.6,236.9 878.1,238.9 881.3,239.8 C884.5,240.6 890.0,240.6 893.2,241.3 C896.3,241.9 901.4,243.0 903.6,244.2 C905.7,245.5 907.2,247.6 908.0,250.2 C908.9,252.7 909.9,258.7 909.5,262.1 C909.1,265.5 907.0,271.2 905.1,274.0 C903.1,276.7 899.7,280.1 896.1,281.4 C892.5,282.7 881.3,281.9 879.8,282.9 C878.3,283.9 883.4,287.6 885.7,288.2 C888.1,288.9 893.0,288.2 896.1,287.3 C899.3,286.5 905.5,282.1 908.0,282.3 C910.6,282.5 912.9,286.2 914.0,288.8 C915.0,291.5 915.7,297.3 915.5,300.7 C915.2,304.1 913.5,309.6 912.5,312.6 C911.4,315.6 908.2,318.5 908.0,321.5 C907.8,324.5 910.6,330.4 911.0,333.4 C911.3,336.4 911.8,340.9 910.5,342.8 C909.2,344.7 904.5,345.8 902.1,347.0 C899.7,348.2 895.7,349.4 893.7,351.2 C891.7,353.0 890.4,357.2 888.0,359.6 C885.6,362.0 879.2,365.9 876.8,368.1 C874.4,370.3 873.6,373.3 871.2,375.1 C868.8,376.9 863.1,379.1 859.9,380.7 C856.7,382.3 851.9,384.6 848.7,386.4 C845.5,388.2 840.6,391.8 837.4,393.4 C834.2,395.0 829.8,396.6 826.2,397.6 C822.6,398.6 815.7,399.6 812.1,400.4 C808.5,401.2 803.7,402.0 800.9,403.2 C798.1,404.4 794.9,406.6 792.5,408.8 C790.1,411.0 786.4,415.9 784.0,418.7 C781.6,421.5 778.0,425.7 775.6,428.5 C773.2,431.3 769.4,435.8 767.2,438.4 C765.0,441.0 762.5,444.2 760.1,446.8 C757.7,449.4 753.7,454.0 750.3,456.6 C746.9,459.2 739.8,462.7 736.2,465.1 C732.6,467.5 727.8,470.9 725.0,473.5 C722.2,476.1 718.5,480.8 716.5,483.3 C714.5,485.8 712.5,490.3 711.0,491.0 C709.5,491.7 706.9,488.5 706.2,488.1 L706.2,488.1 C701.0,486.8 686.0,482.9 675.0,480.0 C664.0,477.1 650.7,473.1 640.0,471.0 C629.3,468.9 618.6,468.5 610.7,467.3 C602.8,466.1 597.6,465.2 592.6,463.8 C587.6,462.4 584.3,460.6 580.6,459.0 C576.9,457.4 573.9,455.7 570.5,454.2 C567.1,452.7 565.5,452.0 560.5,450.2 C555.5,448.4 546.4,445.2 540.4,443.2 C534.4,441.2 531.0,440.3 524.3,438.2 C517.6,436.1 507.6,432.1 500.2,430.4 C492.8,428.7 486.4,428.5 480.0,427.8 C473.6,427.1 464.8,426.4 461.7,426.1 Z" fill="url(#tex)" stroke="#0c0c0c" stroke-width="2.3" stroke-linejoin="round"/>
<clipPath id="tc"><path d="M462.0,427.1 C464.6,424.5 475.0,414.2 480.1,409.0 C485.3,403.9 493.0,396.1 498.2,391.0 C503.4,385.8 511.7,377.6 516.3,372.9 C520.8,368.2 526.8,361.7 529.8,357.8 C532.8,354.0 536.5,349.7 537.3,345.8 C538.2,341.9 536.7,335.0 535.8,330.7 C535.0,326.4 532.6,320.0 531.3,315.7 C530.0,311.4 527.7,304.9 526.8,300.6 C525.9,296.3 524.9,289.8 525.3,285.5 C525.7,281.2 529.3,273.9 529.8,270.5 C530.3,267.0 528.3,264.5 528.9,261.4 C529.6,258.4 533.3,253.3 534.3,249.4 C535.3,245.5 535.0,238.6 535.8,234.3 C536.7,230.0 539.1,223.6 540.4,219.3 C541.7,215.0 542.7,207.7 544.9,204.2 C547.0,200.8 551.8,197.1 555.4,195.2 C559.1,193.2 566.2,192.2 570.5,190.7 C574.8,189.2 582.1,186.8 585.5,184.6 C589.0,182.5 592.0,177.1 594.6,175.6 C597.2,174.1 600.8,173.7 603.6,174.1 C606.4,174.5 611.1,176.9 614.2,178.6 C617.2,180.3 621.7,184.6 624.7,186.1 C627.7,187.7 632.2,189.6 635.2,189.2 C638.3,188.7 642.6,184.9 645.8,183.1 C649.0,181.3 654.4,177.6 657.8,176.5 C661.3,175.4 665.6,175.6 669.9,175.6 C674.2,175.6 682.8,175.9 688.0,176.5 C693.1,177.2 701.3,178.7 706.0,180.1 C710.8,181.5 717.4,184.0 721.1,186.1 C724.7,188.3 729.0,192.2 731.6,195.2 C734.2,198.2 737.1,204.8 739.2,207.2 C741.3,209.7 745.6,210.4 746.4,212.2 C747.1,213.9 745.9,217.3 744.6,219.6 C743.3,221.8 739.5,225.2 737.1,227.9 C734.8,230.6 731.2,234.7 728.2,238.3 C725.3,241.9 716.3,253.0 716.3,253.2 C716.3,253.4 725.0,243.0 728.2,239.8 C731.4,236.6 735.0,232.4 738.6,230.9 C742.2,229.4 749.2,230.0 753.5,229.4 C757.7,228.8 764.5,227.7 768.4,226.4 C772.2,225.1 776.8,222.0 780.2,220.5 C783.6,219.0 788.7,216.9 792.1,216.0 C795.5,215.2 800.6,214.3 804.0,214.5 C807.4,214.7 812.5,216.4 815.9,217.5 C819.3,218.6 824.8,220.3 827.8,222.0 C830.8,223.7 834.2,228.5 836.7,229.4 C839.2,230.2 843.3,227.5 845.6,227.9 C848.0,228.3 850.7,232.2 853.0,232.4 C855.4,232.5 859.4,228.4 862.0,228.8 C864.5,229.2 868.1,233.8 870.9,235.3 C873.6,236.9 878.1,238.9 881.3,239.8 C884.5,240.6 890.0,240.6 893.2,241.3 C896.3,241.9 901.4,243.0 903.6,244.2 C905.7,245.5 907.2,247.6 908.0,250.2 C908.9,252.7 909.9,258.7 909.5,262.1 C909.1,265.5 907.0,271.2 905.1,274.0 C903.1,276.7 899.7,280.1 896.1,281.4 C892.5,282.7 881.3,281.9 879.8,282.9 C878.3,283.9 883.4,287.6 885.7,288.2 C888.1,288.9 893.0,288.2 896.1,287.3 C899.3,286.5 905.5,282.1 908.0,282.3 C910.6,282.5 912.9,286.2 914.0,288.8 C915.0,291.5 915.7,297.3 915.5,300.7 C915.2,304.1 913.5,309.6 912.5,312.6 C911.4,315.6 908.2,318.5 908.0,321.5 C907.8,324.5 910.6,330.4 911.0,333.4 C911.3,336.4 911.8,340.9 910.5,342.8 C909.2,344.7 904.5,345.8 902.1,347.0 C899.7,348.2 895.7,349.4 893.7,351.2 C891.7,353.0 890.4,357.2 888.0,359.6 C885.6,362.0 879.2,365.9 876.8,368.1 C874.4,370.3 873.6,373.3 871.2,375.1 C868.8,376.9 863.1,379.1 859.9,380.7 C856.7,382.3 851.9,384.6 848.7,386.4 C845.5,388.2 840.6,391.8 837.4,393.4 C834.2,395.0 829.8,396.6 826.2,397.6 C822.6,398.6 815.7,399.6 812.1,400.4 C808.5,401.2 803.7,402.0 800.9,403.2 C798.1,404.4 794.9,406.6 792.5,408.8 C790.1,411.0 786.4,415.9 784.0,418.7 C781.6,421.5 778.0,425.7 775.6,428.5 C773.2,431.3 769.4,435.8 767.2,438.4 C765.0,441.0 762.5,444.2 760.1,446.8 C757.7,449.4 753.7,454.0 750.3,456.6 C746.9,459.2 739.8,462.7 736.2,465.1 C732.6,467.5 727.8,470.9 725.0,473.5 C722.2,476.1 718.5,480.8 716.5,483.3 C714.5,485.8 712.5,490.3 711.0,491.0 C709.5,491.7 706.9,488.5 706.2,488.1 L706.2,488.1 C701.0,486.8 686.0,482.9 675.0,480.0 C664.0,477.1 650.7,473.1 640.0,471.0 C629.3,468.9 618.6,468.5 610.7,467.3 C602.8,466.1 597.6,465.2 592.6,463.8 C587.6,462.4 584.3,460.6 580.6,459.0 C576.9,457.4 573.9,455.7 570.5,454.2 C567.1,452.7 565.5,452.0 560.5,450.2 C555.5,448.4 546.4,445.2 540.4,443.2 C534.4,441.2 531.0,440.3 524.3,438.2 C517.6,436.1 507.6,432.1 500.2,430.4 C492.8,428.7 486.4,428.5 480.0,427.8 C473.6,427.1 464.8,426.4 461.7,426.1 Z"/></clipPath>
<path d="M462.0,427.1 C464.6,424.5 475.0,414.2 480.1,409.0 C485.3,403.9 493.0,396.1 498.2,391.0 C503.4,385.8 511.7,377.6 516.3,372.9 C520.8,368.2 526.8,361.7 529.8,357.8 C532.8,354.0 536.5,349.7 537.3,345.8 C538.2,341.9 536.7,335.0 535.8,330.7 C535.0,326.4 532.6,320.0 531.3,315.7 C530.0,311.4 527.7,304.9 526.8,300.6 C525.9,296.3 524.9,289.8 525.3,285.5 C525.7,281.2 529.3,273.9 529.8,270.5 C530.3,267.0 528.3,264.5 528.9,261.4 C529.6,258.4 533.3,253.3 534.3,249.4 C535.3,245.5 535.0,238.6 535.8,234.3 C536.7,230.0 539.1,223.6 540.4,219.3 C541.7,215.0 542.7,207.7 544.9,204.2 C547.0,200.8 551.8,197.1 555.4,195.2 C559.1,193.2 566.2,192.2 570.5,190.7 C574.8,189.2 582.1,186.8 585.5,184.6 C589.0,182.5 592.0,177.1 594.6,175.6 C597.2,174.1 600.8,173.7 603.6,174.1 C606.4,174.5 611.1,176.9 614.2,178.6 C617.2,180.3 621.7,184.6 624.7,186.1 C627.7,187.7 632.2,189.6 635.2,189.2 C638.3,188.7 642.6,184.9 645.8,183.1 C649.0,181.3 654.4,177.6 657.8,176.5 C661.3,175.4 665.6,175.6 669.9,175.6 C674.2,175.6 682.8,175.9 688.0,176.5 C693.1,177.2 701.3,178.7 706.0,180.1 C710.8,181.5 717.4,184.0 721.1,186.1 C724.7,188.3 729.0,192.2 731.6,195.2 C734.2,198.2 737.1,204.8 739.2,207.2 C741.3,209.7 745.6,210.4 746.4,212.2 C747.1,213.9 745.9,217.3 744.6,219.6 C743.3,221.8 739.5,225.2 737.1,227.9 C734.8,230.6 731.2,234.7 728.2,238.3 C725.3,241.9 716.3,253.0 716.3,253.2 C716.3,253.4 725.0,243.0 728.2,239.8 C731.4,236.6 735.0,232.4 738.6,230.9 C742.2,229.4 749.2,230.0 753.5,229.4 C757.7,228.8 764.5,227.7 768.4,226.4 C772.2,225.1 776.8,222.0 780.2,220.5 C783.6,219.0 788.7,216.9 792.1,216.0 C795.5,215.2 800.6,214.3 804.0,214.5 C807.4,214.7 812.5,216.4 815.9,217.5 C819.3,218.6 824.8,220.3 827.8,222.0 C830.8,223.7 834.2,228.5 836.7,229.4 C839.2,230.2 843.3,227.5 845.6,227.9 C848.0,228.3 850.7,232.2 853.0,232.4 C855.4,232.5 859.4,228.4 862.0,228.8 C864.5,229.2 868.1,233.8 870.9,235.3 C873.6,236.9 878.1,238.9 881.3,239.8 C884.5,240.6 890.0,240.6 893.2,241.3 C896.3,241.9 901.4,243.0 903.6,244.2 C905.7,245.5 907.2,247.6 908.0,250.2 C908.9,252.7 909.9,258.7 909.5,262.1 C909.1,265.5 907.0,271.2 905.1,274.0 C903.1,276.7 899.7,280.1 896.1,281.4 C892.5,282.7 881.3,281.9 879.8,282.9 C878.3,283.9 883.4,287.6 885.7,288.2 C888.1,288.9 893.0,288.2 896.1,287.3 C899.3,286.5 905.5,282.1 908.0,282.3 C910.6,282.5 912.9,286.2 914.0,288.8 C915.0,291.5 915.7,297.3 915.5,300.7 C915.2,304.1 913.5,309.6 912.5,312.6 C911.4,315.6 908.2,318.5 908.0,321.5 C907.8,324.5 910.6,330.4 911.0,333.4 C911.3,336.4 911.8,340.9 910.5,342.8 C909.2,344.7 904.5,345.8 902.1,347.0 C899.7,348.2 895.7,349.4 893.7,351.2 C891.7,353.0 890.4,357.2 888.0,359.6 C885.6,362.0 879.2,365.9 876.8,368.1 C874.4,370.3 873.6,373.3 871.2,375.1 C868.8,376.9 863.1,379.1 859.9,380.7 C856.7,382.3 851.9,384.6 848.7,386.4 C845.5,388.2 840.6,391.8 837.4,393.4 C834.2,395.0 829.8,396.6 826.2,397.6 C822.6,398.6 815.7,399.6 812.1,400.4 C808.5,401.2 803.7,402.0 800.9,403.2 C798.1,404.4 794.9,406.6 792.5,408.8 C790.1,411.0 786.4,415.9 784.0,418.7 C781.6,421.5 778.0,425.7 775.6,428.5 C773.2,431.3 769.4,435.8 767.2,438.4 C765.0,441.0 762.5,444.2 760.1,446.8 C757.7,449.4 753.7,454.0 750.3,456.6 C746.9,459.2 739.8,462.7 736.2,465.1 C732.6,467.5 727.8,470.9 725.0,473.5 C722.2,476.1 718.5,480.8 716.5,483.3 C714.5,485.8 712.5,490.3 711.0,491.0 C709.5,491.7 706.9,488.5 706.2,488.1" fill="none" stroke="#3fd84a" stroke-width="5.4" clip-path="url(#tc)" opacity="0.9"/>
<path d="M462.0,427.1 C464.6,424.5 475.0,414.2 480.1,409.0 C485.3,403.9 493.0,396.1 498.2,391.0 C503.4,385.8 511.7,377.6 516.3,372.9 C520.8,368.2 526.8,361.7 529.8,357.8 C532.8,354.0 536.5,349.7 537.3,345.8 C538.2,341.9 536.7,335.0 535.8,330.7 C535.0,326.4 532.6,320.0 531.3,315.7 C530.0,311.4 527.7,304.9 526.8,300.6 C525.9,296.3 524.9,289.8 525.3,285.5 C525.7,281.2 529.3,273.9 529.8,270.5 C530.3,267.0 528.3,264.5 528.9,261.4 C529.6,258.4 533.3,253.3 534.3,249.4 C535.3,245.5 535.0,238.6 535.8,234.3 C536.7,230.0 539.1,223.6 540.4,219.3 C541.7,215.0 542.7,207.7 544.9,204.2 C547.0,200.8 551.8,197.1 555.4,195.2 C559.1,193.2 566.2,192.2 570.5,190.7 C574.8,189.2 582.1,186.8 585.5,184.6 C589.0,182.5 592.0,177.1 594.6,175.6 C597.2,174.1 600.8,173.7 603.6,174.1 C606.4,174.5 611.1,176.9 614.2,178.6 C617.2,180.3 621.7,184.6 624.7,186.1 C627.7,187.7 632.2,189.6 635.2,189.2 C638.3,188.7 642.6,184.9 645.8,183.1 C649.0,181.3 654.4,177.6 657.8,176.5 C661.3,175.4 665.6,175.6 669.9,175.6 C674.2,175.6 682.8,175.9 688.0,176.5 C693.1,177.2 701.3,178.7 706.0,180.1 C710.8,181.5 717.4,184.0 721.1,186.1 C724.7,188.3 729.0,192.2 731.6,195.2 C734.2,198.2 737.1,204.8 739.2,207.2 C741.3,209.7 745.6,210.4 746.4,212.2 C747.1,213.9 745.9,217.3 744.6,219.6 C743.3,221.8 739.5,225.2 737.1,227.9 C734.8,230.6 731.2,234.7 728.2,238.3 C725.3,241.9 716.3,253.0 716.3,253.2 C716.3,253.4 725.0,243.0 728.2,239.8 C731.4,236.6 735.0,232.4 738.6,230.9 C742.2,229.4 749.2,230.0 753.5,229.4 C757.7,228.8 764.5,227.7 768.4,226.4 C772.2,225.1 776.8,222.0 780.2,220.5 C783.6,219.0 788.7,216.9 792.1,216.0 C795.5,215.2 800.6,214.3 804.0,214.5 C807.4,214.7 812.5,216.4 815.9,217.5 C819.3,218.6 824.8,220.3 827.8,222.0 C830.8,223.7 834.2,228.5 836.7,229.4 C839.2,230.2 843.3,227.5 845.6,227.9 C848.0,228.3 850.7,232.2 853.0,232.4 C855.4,232.5 859.4,228.4 862.0,228.8 C864.5,229.2 868.1,233.8 870.9,235.3 C873.6,236.9 878.1,238.9 881.3,239.8 C884.5,240.6 890.0,240.6 893.2,241.3 C896.3,241.9 901.4,243.0 903.6,244.2 C905.7,245.5 907.2,247.6 908.0,250.2 C908.9,252.7 909.9,258.7 909.5,262.1 C909.1,265.5 907.0,271.2 905.1,274.0 C903.1,276.7 899.7,280.1 896.1,281.4 C892.5,282.7 881.3,281.9 879.8,282.9 C878.3,283.9 883.4,287.6 885.7,288.2 C888.1,288.9 893.0,288.2 896.1,287.3 C899.3,286.5 905.5,282.1 908.0,282.3 C910.6,282.5 912.9,286.2 914.0,288.8 C915.0,291.5 915.7,297.3 915.5,300.7 C915.2,304.1 913.5,309.6 912.5,312.6 C911.4,315.6 908.2,318.5 908.0,321.5 C907.8,324.5 910.6,330.4 911.0,333.4 C911.3,336.4 911.8,340.9 910.5,342.8 C909.2,344.7 904.5,345.8 902.1,347.0 C899.7,348.2 895.7,349.4 893.7,351.2 C891.7,353.0 890.4,357.2 888.0,359.6 C885.6,362.0 879.2,365.9 876.8,368.1 C874.4,370.3 873.6,373.3 871.2,375.1 C868.8,376.9 863.1,379.1 859.9,380.7 C856.7,382.3 851.9,384.6 848.7,386.4 C845.5,388.2 840.6,391.8 837.4,393.4 C834.2,395.0 829.8,396.6 826.2,397.6 C822.6,398.6 815.7,399.6 812.1,400.4 C808.5,401.2 803.7,402.0 800.9,403.2 C798.1,404.4 794.9,406.6 792.5,408.8 C790.1,411.0 786.4,415.9 784.0,418.7 C781.6,421.5 778.0,425.7 775.6,428.5 C773.2,431.3 769.4,435.8 767.2,438.4 C765.0,441.0 762.5,444.2 760.1,446.8 C757.7,449.4 753.7,454.0 750.3,456.6 C746.9,459.2 739.8,462.7 736.2,465.1 C732.6,467.5 727.8,470.9 725.0,473.5 C722.2,476.1 718.5,480.8 716.5,483.3 C714.5,485.8 712.5,490.3 711.0,491.0 C709.5,491.7 706.9,488.5 706.2,488.1 L706.2,488.1 C701.0,486.8 686.0,482.9 675.0,480.0 C664.0,477.1 650.7,473.1 640.0,471.0 C629.3,468.9 618.6,468.5 610.7,467.3 C602.8,466.1 597.6,465.2 592.6,463.8 C587.6,462.4 584.3,460.6 580.6,459.0 C576.9,457.4 573.9,455.7 570.5,454.2 C567.1,452.7 565.5,452.0 560.5,450.2 C555.5,448.4 546.4,445.2 540.4,443.2 C534.4,441.2 531.0,440.3 524.3,438.2 C517.6,436.1 507.6,432.1 500.2,430.4 C492.8,428.7 486.4,428.5 480.0,427.8 C473.6,427.1 464.8,426.4 461.7,426.1 Z" fill="none" stroke="#0c0c0c" stroke-width="2.4" stroke-linejoin="round"/>
<path d="M461.7,426.1 C464.8,426.4 473.6,427.1 480.0,427.8 C486.4,428.5 492.8,428.7 500.2,430.4 C507.6,432.1 517.6,436.1 524.3,438.2 C531.0,440.3 534.4,441.2 540.4,443.2 C546.4,445.2 555.5,448.4 560.5,450.2 C565.5,452.0 567.1,452.7 570.5,454.2 C573.9,455.7 576.9,457.4 580.6,459.0 C584.3,460.6 587.6,462.4 592.6,463.8 C597.6,465.2 602.8,466.1 610.7,467.3 C618.6,468.5 629.3,468.9 640.0,471.0 C650.7,473.1 664.0,477.1 675.0,480.0 C686.0,482.9 701.0,486.8 706.2,488.1 L713,484.5 L712.5,493 L705.5,498.0 C700.4,496.7 685.9,492.8 675.0,490.0 C664.1,487.2 648.4,483.1 640.0,481.2 C631.6,479.3 629.6,479.5 624.7,478.4 C619.8,477.3 616.1,476.1 610.7,474.8 C605.4,473.5 597.6,472.1 592.6,470.8 C587.6,469.5 586.0,468.7 580.6,466.8 C575.2,464.9 567.2,461.9 560.5,459.6 C553.8,457.3 545.8,455.4 540.4,453.2 C535.0,451.0 533.4,448.8 528.4,446.6 C523.4,444.4 516.7,441.9 510.3,440.2 C503.9,438.4 495.9,437.2 490.2,436.1 C484.5,435.0 480.8,434.4 476.0,433.6 C471.2,432.8 463.7,431.6 461.2,431.2 Z" fill="#86ea8c" stroke="#0c0c0c" stroke-width="1.5" stroke-linejoin="round"/>
<clipPath id="sc"><path d="M461.7,426.1 C464.8,426.4 473.6,427.1 480.0,427.8 C486.4,428.5 492.8,428.7 500.2,430.4 C507.6,432.1 517.6,436.1 524.3,438.2 C531.0,440.3 534.4,441.2 540.4,443.2 C546.4,445.2 555.5,448.4 560.5,450.2 C565.5,452.0 567.1,452.7 570.5,454.2 C573.9,455.7 576.9,457.4 580.6,459.0 C584.3,460.6 587.6,462.4 592.6,463.8 C597.6,465.2 602.8,466.1 610.7,467.3 C618.6,468.5 629.3,468.9 640.0,471.0 C650.7,473.1 664.0,477.1 675.0,480.0 C686.0,482.9 701.0,486.8 706.2,488.1 L713,484.5 L712.5,493 L705.5,498.0 C700.4,496.7 685.9,492.8 675.0,490.0 C664.1,487.2 648.4,483.1 640.0,481.2 C631.6,479.3 629.6,479.5 624.7,478.4 C619.8,477.3 616.1,476.1 610.7,474.8 C605.4,473.5 597.6,472.1 592.6,470.8 C587.6,469.5 586.0,468.7 580.6,466.8 C575.2,464.9 567.2,461.9 560.5,459.6 C553.8,457.3 545.8,455.4 540.4,453.2 C535.0,451.0 533.4,448.8 528.4,446.6 C523.4,444.4 516.7,441.9 510.3,440.2 C503.9,438.4 495.9,437.2 490.2,436.1 C484.5,435.0 480.8,434.4 476.0,433.6 C471.2,432.8 463.7,431.6 461.2,431.2 Z"/></clipPath>
<path d="M540.4,440 L628,467 L624.7,483 L544.4,458 Z" fill="#9aa4f2" clip-path="url(#sc)"/>
<path d="M461.7,426.1 C464.8,426.4 473.6,427.1 480.0,427.8 C486.4,428.5 492.8,428.7 500.2,430.4 C507.6,432.1 517.6,436.1 524.3,438.2 C531.0,440.3 534.4,441.2 540.4,443.2 C546.4,445.2 555.5,448.4 560.5,450.2 C565.5,452.0 567.1,452.7 570.5,454.2 C573.9,455.7 576.9,457.4 580.6,459.0 C584.3,460.6 587.6,462.4 592.6,463.8 C597.6,465.2 602.8,466.1 610.7,467.3 C618.6,468.5 629.3,468.9 640.0,471.0 C650.7,473.1 664.0,477.1 675.0,480.0 C686.0,482.9 701.0,486.8 706.2,488.1" fill="none" stroke="#0c0c0c" stroke-width="1.6"/>
<g clip-path="url(#tc)">
<path d="M540.4,444.5 L585.5,405.3 L618.7,375.2 L642.8,348.1 L648.8,339.0 L645.8,345.8 L641.3,330.7 L634.3,309.6 L627.1,282.5 L619.3,270.5 L602.1,237.3 L583.4,200.6 L589.2,198.2 L618.7,240.4 L630.7,262.0 L632.2,195.2 L637.3,195.8 L640.4,240.4 L642.8,267.5 L650.3,282.5 L657.8,309.6 L665.4,327.7 L671.4,339.8 L691.0,332.2 L721.1,322.3 L744.6,311.1 L758.2,308.4 L788.4,276.2 L796.4,266.2 L828.5,234.5 L834.1,236.1 L815.5,258.2 L802.4,273.2 L777.5,300.3 L800.4,297.3 L824.5,294.3 L848.6,289.3 L877.7,286.7 L877.7,291.5 L848.6,297.3 L828.5,301.3 L812.4,304.3 L790.4,308.6 L766.3,314.6 L744.6,323.0 L700.0,342.3 L709.0,341.3 L691.0,349.4 L675.9,357.8 L678.9,352.6 L674.4,363.1 L660.8,390.2 L642.8,429.4 L623.2,471.6 Z" fill="#527cc6" opacity="0.92"/>
<path d="M619.5,412.2 L622.2,440.2 L612.3,437.5 L594.2,459.2 L576.1,450.1 L592.4,430.2 L583.4,428.4 Z" fill="#2f5cc4"/>
<path d="M658.4,359.8 L659.3,379.6 L653.0,377.8 L634.0,399.5 L620.4,394.1 L637.6,374.2 L631.3,371.5 Z" fill="#2f5cc4"/>
<path d="M680.6,341.3 L694.0,335.9 L692.7,331.7 L706.3,333.6 L701.8,343.9 L700.0,340.2 L684.6,347.5 Z" fill="#2f5cc4"/>
<path d="M745.6,312.5 L756.7,309.6 L755.2,307.4 L767.8,310.5 L758.4,319.5 L758.6,316.8 L747.5,319.8 Z" fill="#2f5cc4"/>
<path d="M786.2,299.7 L799.2,299.0 L798.1,296.6 L811.4,302.1 L798.7,309.1 L799.6,306.5 L786.6,307.2 Z" fill="#2f5cc4"/>
<path d="M848.0,290.2 L857.5,288.9 L856.5,286.8 L866.8,290.9 L858.0,297.7 L858.4,295.4 L848.9,296.8 Z" fill="#2f5cc4"/>
<path d="M540.4,444.5 L585.5,405.3 L618.7,375.2 L642.8,348.1 L648.8,339.0 L645.8,345.8 L641.3,330.7 L634.3,309.6 L627.1,282.5 L619.3,270.5 L602.1,237.3 L583.4,200.6 L589.2,198.2 L618.7,240.4 L630.7,262.0 L632.2,195.2 L637.3,195.8 L640.4,240.4 L642.8,267.5 L650.3,282.5 L657.8,309.6 L665.4,327.7 L671.4,339.8 L691.0,332.2 L721.1,322.3 L744.6,311.1 L758.2,308.4 L788.4,276.2 L796.4,266.2 L828.5,234.5 L834.1,236.1 L815.5,258.2 L802.4,273.2 L777.5,300.3 L800.4,297.3 L824.5,294.3 L848.6,289.3 L877.7,286.7 L877.7,291.5 L848.6,297.3 L828.5,301.3 L812.4,304.3 L790.4,308.6 L766.3,314.6 L744.6,323.0 L700.0,342.3 L709.0,341.3 L691.0,349.4 L675.9,357.8 L678.9,352.6 L674.4,363.1 L660.8,390.2 L642.8,429.4 L623.2,471.6 Z" fill="url(#spk)"/>
</g>
<path d="M569.5,458.6 L578.6,452.6 L593.6,461.2 L590.6,467.6 Z" fill="#1414ea"/>
<path d="M595.0,230.6 C595.5,239.8 600.6,241.0 605.1,241.0 C609.7,241.0 614.7,239.8 615.2,230.6 Z" fill="url(#cupg)" stroke="#0e1e0e" stroke-width="1.2"/>
<path d="M616.7,228.9 L613.7,231.2 L614.0,232.8 L610.2,232.9 L608.4,234.3 L605.1,233.5 L601.8,234.3 L600.0,232.9 L596.2,232.8 L596.6,231.2 L593.5,228.9 L595.8,229.0 L594.4,226.2 L598.0,227.0 L598.8,224.1 L602.5,225.8 L605.1,223.3 L607.8,225.8 L611.5,224.1 L612.2,227.0 L615.8,226.2 L614.4,229.0 Z" fill="#b6ee3e" stroke="#16300f" stroke-width="1" stroke-linejoin="round"/>
<ellipse cx="605.1" cy="229.7" rx="8.0" ry="2.4" fill="#2c9c3c"/>
<path d="M595.3,229.2 L595.8,232.1 L597.6,231.2 L600.2,233.7 L603.4,232.2 L606.8,234.0 L610.1,231.9 L612.7,233.0 L614.4,230.3 L615.0,231.1 L615.2,229.6 L614.6,232.5 L612.9,233.4 L610.2,234.9 L606.9,234.9 L603.4,235.4 L600.1,234.4 L597.4,233.9 L595.6,232.0 L595.0,230.0 Z" fill="#b6ee3e"/>
<path d="M595.3,229.2 L595.8,232.1 L597.6,231.2 L600.2,233.7 L603.4,232.2 L606.8,234.0 L610.1,231.9 L612.7,233.0 L614.4,230.3 L615.0,231.1" fill="none" stroke="#16300f" stroke-width="1" stroke-linejoin="round"/>
<path d="M625.8,225.5 C626.3,234.7 631.5,235.8 636.1,235.8 C640.8,235.8 646.0,234.7 646.5,225.5 Z" fill="url(#cupg)" stroke="#0e1e0e" stroke-width="1.2"/>
<path d="M648.1,223.8 L644.9,226.1 L645.2,227.7 L641.4,227.7 L639.5,229.1 L636.1,228.4 L632.8,229.1 L630.9,227.7 L627.0,227.7 L627.4,226.1 L624.2,223.8 L626.6,223.9 L625.2,221.1 L628.9,221.9 L629.6,219.0 L633.4,220.7 L636.1,218.2 L638.9,220.7 L642.7,219.0 L643.4,221.9 L647.1,221.1 L645.7,223.9 Z" fill="#b6ee3e" stroke="#16300f" stroke-width="1" stroke-linejoin="round"/>
<ellipse cx="636.1" cy="224.6" rx="8.2" ry="2.4" fill="#2c9c3c"/>
<path d="M626.0,224.1 L626.6,227.0 L628.4,226.1 L631.1,228.6 L634.4,227.1 L637.9,228.9 L641.2,226.7 L643.9,227.9 L645.7,225.1 L646.3,225.9 L646.5,224.5 L645.9,227.4 L644.1,228.3 L641.3,229.8 L637.9,229.8 L634.3,230.3 L631.0,229.3 L628.2,228.8 L626.4,226.9 L625.8,224.9 Z" fill="#b6ee3e"/>
<path d="M626.0,224.1 L626.6,227.0 L628.4,226.1 L631.1,228.6 L634.4,227.1 L637.9,228.9 L641.2,226.7 L643.9,227.9 L645.7,225.1 L646.3,225.9" fill="none" stroke="#16300f" stroke-width="1" stroke-linejoin="round"/>
<path d="M624.9,292.9 C625.8,310.0 634.7,312.0 642.8,312.0 C650.8,312.0 659.8,310.0 660.6,292.9 Z" fill="url(#cupg)" stroke="#0e1e0e" stroke-width="1.2"/>
<path d="M663.3,290.7 L657.9,294.8 L658.5,297.6 L651.8,297.7 L648.6,300.2 L642.8,298.8 L636.9,300.2 L633.8,297.7 L627.1,297.6 L627.6,294.8 L622.2,290.7 L626.3,291.0 L623.9,285.9 L630.2,287.4 L631.5,282.3 L638.1,285.3 L642.8,280.9 L647.5,285.3 L654.0,282.3 L655.3,287.4 L661.7,285.9 L659.2,291.0 Z" fill="#b6ee3e" stroke="#16300f" stroke-width="1" stroke-linejoin="round"/>
<ellipse cx="642.8" cy="292.2" rx="14.1" ry="4.3" fill="#2c9c3c"/>
<path d="M625.3,291.3 L626.4,296.4 L629.4,294.8 L634.0,299.2 L639.7,296.6 L645.8,299.8 L651.5,296.0 L656.1,298.0 L659.2,293.2 L660.2,294.6 L660.6,291.9 L659.6,297.1 L656.5,298.8 L651.7,301.3 L645.9,301.4 L639.7,302.2 L633.8,300.5 L629.1,299.6 L626.0,296.2 L624.9,292.7 Z" fill="#b6ee3e"/>
<path d="M625.3,291.3 L626.4,296.4 L629.4,294.8 L634.0,299.2 L639.7,296.6 L645.8,299.8 L651.5,296.0 L656.1,298.0 L659.2,293.2 L660.2,294.6" fill="none" stroke="#16300f" stroke-width="1" stroke-linejoin="round"/>
<path d="M709.7,315.4 C710.6,332.3 719.4,334.3 727.3,334.3 C735.3,334.3 744.1,332.3 745.0,315.4 Z" fill="url(#cupg)" stroke="#0e1e0e" stroke-width="1.2"/>
<path d="M747.6,313.3 L742.3,317.3 L742.8,320.0 L736.2,320.2 L733.1,322.6 L727.3,321.3 L721.6,322.6 L718.5,320.2 L711.8,320.0 L712.4,317.3 L707.0,313.3 L711.1,313.5 L708.7,308.5 L714.9,310.0 L716.3,304.9 L722.7,307.9 L727.3,303.6 L732.0,307.9 L738.4,304.9 L739.7,310.0 L746.0,308.5 L743.6,313.5 Z" fill="#b6ee3e" stroke="#16300f" stroke-width="1" stroke-linejoin="round"/>
<ellipse cx="727.3" cy="314.7" rx="13.9" ry="4.3" fill="#2c9c3c"/>
<path d="M710.1,313.9 L711.2,318.8 L714.1,317.2 L718.7,321.6 L724.3,319.0 L730.3,322.2 L736.0,318.4 L740.5,320.4 L743.5,315.7 L744.6,317.0 L745.0,314.4 L743.9,319.5 L740.8,321.2 L736.2,323.7 L730.4,323.8 L724.3,324.6 L718.5,322.9 L713.8,322.0 L710.8,318.7 L709.7,315.2 Z" fill="#b6ee3e"/>
<path d="M710.1,313.9 L711.2,318.8 L714.1,317.2 L718.7,321.6 L724.3,319.0 L730.3,322.2 L736.0,318.4 L740.5,320.4 L743.5,315.7 L744.6,317.0" fill="none" stroke="#16300f" stroke-width="1" stroke-linejoin="round"/>
<path d="M794.4,260.8 C794.9,269.9 800.0,271.0 804.6,271.0 C809.2,271.0 814.3,269.9 814.8,260.8 Z" fill="url(#cupg)" stroke="#0e1e0e" stroke-width="1.2"/>
<path d="M816.4,259.1 L813.3,261.4 L813.6,262.9 L809.7,263.0 L808.0,264.4 L804.6,263.6 L801.3,264.4 L799.5,263.0 L795.6,262.9 L796.0,261.4 L792.8,259.1 L795.2,259.2 L793.8,256.4 L797.4,257.2 L798.2,254.4 L801.9,256.1 L804.6,253.6 L807.3,256.1 L811.0,254.4 L811.8,257.2 L815.4,256.4 L814.0,259.2 Z" fill="#b6ee3e" stroke="#16300f" stroke-width="1" stroke-linejoin="round"/>
<ellipse cx="804.6" cy="259.9" rx="8.1" ry="2.4" fill="#2c9c3c"/>
<path d="M794.6,259.4 L795.2,262.3 L797.0,261.3 L799.6,263.8 L802.9,262.4 L806.3,264.2 L809.6,262.0 L812.3,263.1 L814.0,260.4 L814.6,261.2 L814.8,259.8 L814.2,262.6 L812.4,263.6 L809.7,265.0 L806.4,265.1 L802.8,265.5 L799.5,264.6 L796.8,264.0 L795.0,262.2 L794.4,260.2 Z" fill="#b6ee3e"/>
<path d="M794.6,259.4 L795.2,262.3 L797.0,261.3 L799.6,263.8 L802.9,262.4 L806.3,264.2 L809.6,262.0 L812.3,263.1 L814.0,260.4 L814.6,261.2" fill="none" stroke="#16300f" stroke-width="1" stroke-linejoin="round"/>
<path d="M825.2,293.5 C825.7,302.6 830.7,303.7 835.2,303.7 C839.7,303.7 844.7,302.6 845.2,293.5 Z" fill="url(#cupg)" stroke="#0e1e0e" stroke-width="1.2"/>
<path d="M846.7,291.8 L843.6,294.1 L844.0,295.6 L840.2,295.7 L838.5,297.1 L835.2,296.3 L832.0,297.1 L830.2,295.7 L826.5,295.6 L826.8,294.1 L823.7,291.8 L826.0,291.9 L824.7,289.1 L828.2,289.9 L828.9,287.0 L832.6,288.8 L835.2,286.3 L837.8,288.8 L841.5,287.0 L842.2,289.9 L845.8,289.1 L844.4,291.9 Z" fill="#b6ee3e" stroke="#16300f" stroke-width="1" stroke-linejoin="round"/>
<ellipse cx="835.2" cy="292.6" rx="7.9" ry="2.4" fill="#2c9c3c"/>
<path d="M825.5,292.1 L826.1,294.9 L827.8,294.0 L830.3,296.5 L833.5,295.1 L836.9,296.9 L840.1,294.7 L842.7,295.8 L844.4,293.1 L845.0,293.9 L845.2,292.5 L844.6,295.3 L842.9,296.3 L840.2,297.7 L836.9,297.7 L833.5,298.2 L830.2,297.2 L827.6,296.7 L825.8,294.9 L825.2,292.9 Z" fill="#b6ee3e"/>
<path d="M825.5,292.1 L826.1,294.9 L827.8,294.0 L830.3,296.5 L833.5,295.1 L836.9,296.9 L840.1,294.7 L842.7,295.8 L844.4,293.1 L845.0,293.9" fill="none" stroke="#16300f" stroke-width="1" stroke-linejoin="round"/>
<path d="M883.7,289.4 C886.7,288.1 897.0,285.0 902.1,281.4 C907.1,277.8 911.0,273.2 914.0,268.0 C916.9,262.8 918.5,257.1 919.9,250.2 C921.3,243.3 922.0,234.3 922.3,226.4 C922.5,218.5 922.3,210.6 921.4,202.6 C920.5,194.7 918.6,186.8 916.9,178.9 C915.3,170.9 913.3,162.5 911.6,155.1 C909.9,147.7 907.4,137.8 906.5,134.3 L893.8,132.8 C894.7,136.5 897.7,147.4 899.7,155.1 C901.7,162.8 903.9,170.9 905.6,178.9 C907.4,186.8 909.4,194.7 910.4,202.6 C911.4,210.6 911.7,219.0 911.6,226.4 C911.4,233.8 910.8,241.0 909.5,247.2 C908.2,253.4 906.3,258.9 903.6,263.6 C900.8,268.3 897.2,272.2 893.2,275.5 C889.1,278.7 881.5,281.6 879.2,282.9 Z" fill="#62dc5e" stroke="#0c0c0c" stroke-width="2.1" stroke-linejoin="round"/>
<path d="M890.2,283.5 C892.7,281.5 901.0,276.6 905.1,271.6 C909.1,266.5 912.6,260.7 914.6,253.2 C916.5,245.6 916.7,234.8 916.9,226.4 C917.2,218.0 917.0,210.6 916.0,202.6 C915.1,194.7 913.0,186.8 911.3,178.9 C909.6,170.9 907.4,162.3 905.6,155.1 C903.9,147.9 901.7,139.0 900.9,135.8" fill="none" stroke="#6c82ea" stroke-width="3.6"/>
<path d="M862.9,131.3 C863.1,129.1 864.8,125.9 866.4,122.4 C868.0,118.9 870.4,114.5 872.4,110.5 C874.3,106.6 876.1,102.1 878.3,98.6 C880.5,95.2 882.8,91.5 885.7,89.7 C888.7,88.0 892.4,88.2 896.1,88.2 C899.9,88.2 904.1,89.0 908.0,89.7 C912.0,90.5 915.9,91.8 919.9,92.7 C923.9,93.6 928.8,94.2 931.8,95.1 C934.8,96.0 937.2,96.9 937.7,98.0 C938.2,99.1 937.2,100.8 934.8,101.6 C932.3,102.4 926.3,102.6 922.9,103.1 C919.4,103.6 913.5,103.6 914.0,104.6 C914.5,105.6 921.9,107.5 925.9,109.0 C929.8,110.5 935.4,112.0 937.7,113.5 C940.1,115.0 940.6,116.6 940.1,117.9 C939.6,119.3 937.6,121.3 934.8,121.8 C931.9,122.3 926.6,121.6 922.9,120.9 C919.2,120.3 915.0,118.7 912.5,117.9 C910.0,117.2 908.0,115.5 908.0,116.5 C908.0,117.5 911.4,121.2 912.5,123.9 C913.6,126.6 914.8,130.5 914.6,132.8 C914.3,135.1 912.6,137.4 911.0,137.9 C909.4,138.4 907.0,137.1 905.1,135.8 C903.1,134.4 900.8,132.1 899.1,129.8 C897.4,127.6 895.9,124.4 894.7,122.4 C893.4,120.4 891.9,117.0 891.7,117.9 C891.4,118.9 893.4,124.9 893.2,128.4 C892.9,131.8 891.7,136.0 890.2,138.8 C888.7,141.5 886.5,143.5 884.2,144.7 C882.0,145.9 878.8,146.9 876.8,146.2 C874.8,145.4 872.9,142.7 872.4,140.2 C871.9,137.8 874.3,132.1 873.8,131.3 C873.4,130.6 870.9,135.0 869.4,135.8 C867.9,136.5 866.0,136.5 864.9,135.8 C863.8,135.0 862.6,133.6 862.9,131.3 Z" fill="#4fd34c" stroke="#0c0c0c" stroke-width="2" stroke-linejoin="round"/>
<path d="M914.6,195.2 L922.3,204.4 L919.9,204.7 L921.4,219.3 L911.6,220.2 L909.5,205.3 L906.5,205.6 Z" fill="#1a28f0"/>
<path d="M914.6,258.5 L916.3,268.6 L912.2,268.9 L908.0,279.3 L899.7,274.6 L905.6,265.9 L902.1,265.1 Z" fill="#1a28f0"/>
</g>
<!-- bottom -->
<g id="xylem">
<path d="M268.8,650 L325.5,625.5 L326.5,924.5 L268.5,949.5 Z" fill="#dedefb" stroke="#8484e6" stroke-width="2.2" stroke-linejoin="round"/>
<clipPath id="xc"><path d="M268.8,650 L325.5,625.5 L326.5,924.5 L268.5,949.5 Z"/></clipPath>
<g clip-path="url(#xc)">
<g stroke="#8686dc" stroke-width="4.6" fill="none">
<path d="M270,637.5 L325,654.5"/>
<path d="M269,665.5 L326,681.5"/>
<path d="M269,691.8 L326,707.8"/>
<path d="M269,718.0 L326,734.0"/>
<path d="M269,744.3 L326,760.3"/>
<path d="M269,770.6 L326,786.6"/>
<path d="M269,796.9 L326,812.9"/>
<path d="M269,823.1 L326,839.1"/>
<path d="M269,849.4 L326,865.4"/>
<path d="M269,875.7 L326,891.7"/>
<path d="M269,901.9 L326,917.9"/>
<path d="M269,928.2 L326,944.2"/>
</g>
<path d="M270.3,662.0 L272.0,659.6 L282.0,657.8 L293.0,656.6 L306.0,655.4 L318.0,654.6 L323.6,655.6 L324.2,656.6 L318.0,659.4 L301.0,662.9 L288.0,664.6 L277.5,665.7 L273.0,664.4 Z" fill="#1c1cd8"/>
<path d="M270.3,688.3 L272.0,685.9 L282.0,684.1 L293.0,682.9 L306.0,681.7 L318.0,680.9 L323.6,681.9 L324.2,682.9 L318.0,685.7 L301.0,689.2 L288.0,690.9 L277.5,692.0 L273.0,690.7 Z" fill="#1c1cd8"/>
<path d="M270.3,714.5 L272.0,712.1 L282.0,710.3 L293.0,709.1 L306.0,707.9 L318.0,707.1 L323.6,708.1 L324.2,709.1 L318.0,711.9 L301.0,715.4 L288.0,717.1 L277.5,718.2 L273.0,716.9 Z" fill="#1c1cd8"/>
<path d="M270.3,740.8 L272.0,738.4 L282.0,736.6 L293.0,735.4 L306.0,734.2 L318.0,733.4 L323.6,734.4 L324.2,735.4 L318.0,738.2 L301.0,741.7 L288.0,743.4 L277.5,744.5 L273.0,743.2 Z" fill="#1c1cd8"/>
<path d="M270.3,767.1 L272.0,764.7 L282.0,762.9 L293.0,761.7 L306.0,760.5 L318.0,759.7 L323.6,760.7 L324.2,761.7 L318.0,764.5 L301.0,768.0 L288.0,769.7 L277.5,770.8 L273.0,769.5 Z" fill="#1c1cd8"/>
<path d="M270.3,793.4 L272.0,791.0 L282.0,789.1 L293.0,788.0 L306.0,786.8 L318.0,786.0 L323.6,787.0 L324.2,788.0 L318.0,790.8 L301.0,794.2 L288.0,796.0 L277.5,797.1 L273.0,795.8 Z" fill="#1c1cd8"/>
<path d="M270.3,819.6 L272.0,817.2 L282.0,815.4 L293.0,814.2 L306.0,813.0 L318.0,812.2 L323.6,813.2 L324.2,814.2 L318.0,817.0 L301.0,820.5 L288.0,822.2 L277.5,823.3 L273.0,822.0 Z" fill="#1c1cd8"/>
<path d="M270.3,845.9 L272.0,843.5 L282.0,841.7 L293.0,840.5 L306.0,839.3 L318.0,838.5 L323.6,839.5 L324.2,840.5 L318.0,843.3 L301.0,846.8 L288.0,848.5 L277.5,849.6 L273.0,848.3 Z" fill="#1c1cd8"/>
<path d="M270.3,872.2 L272.0,869.8 L282.0,868.0 L293.0,866.8 L306.0,865.6 L318.0,864.8 L323.6,865.8 L324.2,866.8 L318.0,869.6 L301.0,873.1 L288.0,874.8 L277.5,875.9 L273.0,874.6 Z" fill="#1c1cd8"/>
<path d="M270.3,898.4 L272.0,896.0 L282.0,894.2 L293.0,893.0 L306.0,891.8 L318.0,891.0 L323.6,892.0 L324.2,893.0 L318.0,895.8 L301.0,899.3 L288.0,901.0 L277.5,902.1 L273.0,900.8 Z" fill="#1c1cd8"/>
<path d="M270.3,924.7 L272.0,922.3 L282.0,920.5 L293.0,919.3 L306.0,918.1 L318.0,917.3 L323.6,918.3 L324.2,919.3 L318.0,922.1 L301.0,925.6 L288.0,927.3 L277.5,928.4 L273.0,927.1 Z" fill="#1c1cd8"/>
</g>
<path d="M268.8,650 L325.5,625.5 L326.5,924.5 L268.5,949.5 Z" fill="none" stroke="#8484e6" stroke-width="2.2" stroke-linejoin="round"/>
</g>
<g id="rhiz">
<clipPath id="rc"><path d="M643.3,620 L650,620.5 L660,626 L668,622 L682,621.5 L694,624 L698,629 L699.8,632 L699.8,898 C699.8,930 688,946 671.5,946 C655,946 643.3,930 643.3,898 Z"/></clipPath>
<path d="M643.3,620 L650,620.5 L660,626 L668,622 L682,621.5 L694,624 L698,629 L699.8,632 L699.8,898 C699.8,930 688,946 671.5,946 C655,946 643.3,930 643.3,898 Z" fill="#e0e0fc"/>
<g clip-path="url(#rc)" fill="#2a2aee">
<ellipse cx="643" cy="621" rx="20" ry="11"/>
<ellipse cx="643" cy="674" rx="20" ry="11"/>
<ellipse cx="643" cy="720.5" rx="20" ry="11"/>
<ellipse cx="643" cy="767.5" rx="20" ry="11"/>
<ellipse cx="643" cy="815" rx="20" ry="11"/>
<ellipse cx="643" cy="862" rx="20" ry="11"/>
<ellipse cx="643" cy="907" rx="20" ry="11"/>
<ellipse cx="700" cy="649.5" rx="21" ry="12"/>
<ellipse cx="700" cy="696" rx="21" ry="12"/>
<ellipse cx="700" cy="743" rx="21" ry="12"/>
<ellipse cx="700" cy="790.5" rx="21" ry="12"/>
<ellipse cx="700" cy="838.5" rx="21" ry="12"/>
<ellipse cx="700" cy="886.5" rx="21" ry="12"/>
</g>
<path d="M643.3,620 L643.3,898 C643.3,930 655,946 671.5,946 C688,946 699.8,930 699.8,898 L699.8,630" fill="none" stroke="#2424e8" stroke-width="1.7"/>
</g>
<path d="M349.8,714.6 L371.2,735.5 L357.2,735.5 L357.2,803.6 L342.6,803.6 L342.6,735.5 L328.40000000000003,735.5 Z" fill="#1a55ee"/>
<path d="M617.8,714.6 L639.1999999999999,735.5 L625.1999999999999,735.5 L625.1999999999999,803.6 L610.5999999999999,803.6 L610.5999999999999,735.5 L596.4,735.5 Z" fill="#1a55ee"/>
<path d="M486.5,663.0 L345.7,678.1" stroke="#111" stroke-width="2.1" fill="none"/><path d="M327.8,680.0 L347.2,673.1 L348.2,682.6 Z" fill="#111"/>
<path d="M486.5,663.0 L621.9,677.1" stroke="#111" stroke-width="2.1" fill="none"/><path d="M639.8,679.0 L619.4,681.7 L620.4,672.1 Z" fill="#111"/>
<path d="M485.7,869.2 L346.2,851.6" stroke="#111" stroke-width="2.1" fill="none"/><path d="M328.3,849.3 L348.7,847.0 L347.5,856.6 Z" fill="#111"/>
<path d="M485.7,869.2 L621.8,851.6" stroke="#111" stroke-width="2.1" fill="none"/><path d="M639.7,849.3 L620.5,856.6 L619.2,847.1 Z" fill="#111"/>
<path d="M200.5,753.3 L235.0,753.3" stroke="#111" stroke-width="2.1" fill="none"/><path d="M253.0,753.3 L233.0,758.1 L233.0,748.5 Z" fill="#111"/>
<path d="M756.0,752.3 L721.8,752.3" stroke="#111" stroke-width="2.1" fill="none"/><path d="M703.8,752.3 L723.8,747.5 L723.8,757.1 Z" fill="#111"/>
<!-- text -->
<text x="166.4" y="28.5" font-size="24.7" textLength="197.0" lengthAdjust="spacingAndGlyphs" fill="#1a1a1a" >Flowering Plant</text>
<text x="604.7" y="28.5" font-size="24.7" textLength="228.9" lengthAdjust="spacingAndGlyphs" fill="#1a1a1a" >Thalloid Liverwort</text>
<text x="355.7" y="653.3" font-size="24.7" textLength="248.8" lengthAdjust="spacingAndGlyphs" fill="#1a1a1a" >Secondary Cell Wall</text>
<text x="336.6" y="894.5" font-size="24.7" textLength="296.3" lengthAdjust="spacingAndGlyphs" fill="#1a1a1a" >Programmed Cell Death</text>
<text x="164.2" y="979.7" font-size="24.7" textLength="322.8" lengthAdjust="spacingAndGlyphs" fill="#1a1a1a" >Xylem Tracheary Element</text>
<text x="603.5" y="979.0" font-size="24.7" textLength="193.8" lengthAdjust="spacingAndGlyphs" fill="#1a1a1a" >Pegged Rhizoid</text>
<text x="759.7" y="761.8" font-size="24.7" textLength="210.7" lengthAdjust="spacingAndGlyphs" fill="#1a1a1a" >Mp<tspan font-style="italic">ZOU1/MpICE1</tspan></text>
<text x="139.9" y="762.4" font-size="24.7" textLength="55.7" lengthAdjust="spacingAndGlyphs" fill="#1a1a1a" font-style="italic">VND</text>
<text x="412.9" y="750.6" font-size="24.7" textLength="129.4" lengthAdjust="spacingAndGlyphs" fill="#1a55ee" >Optimised</text>
<text x="378.0" y="783.5" font-size="24.7" textLength="206.6" lengthAdjust="spacingAndGlyphs" fill="#1a55ee" >Water Transport</text>
</svg>
</body></html>
